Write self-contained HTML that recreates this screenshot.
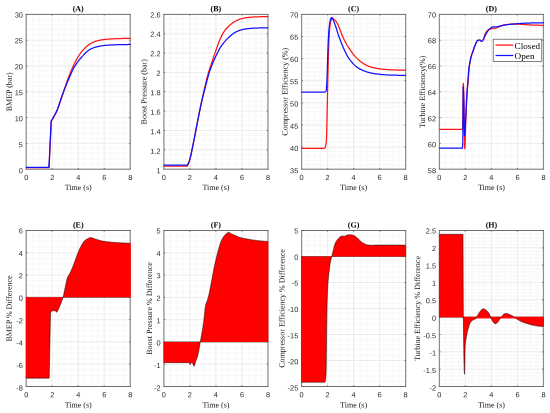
<!DOCTYPE html>
<html lang="en"><head><meta charset="utf-8"><title>Closed vs Open comparison</title>
<style>html,body{margin:0;padding:0;background:#fff}body{width:550px;height:413px;overflow:hidden}svg{display:block}.t{font-family:"Liberation Sans",Arial,sans-serif;font-size:7.4px;fill:#2a2a2a}.l{font-family:"Liberation Serif","Times New Roman",serif;font-size:8.0px;fill:#161616}.h{font-family:"Liberation Serif","Times New Roman",serif;font-size:8.0px;font-weight:bold;fill:#000}.g{font-family:"Liberation Serif","Times New Roman",serif;font-size:9.2px;fill:#000}</style></head><body>
<svg width="550" height="413" viewBox="0 0 550 413">
<rect x="0" y="0" width="550" height="413" fill="#ffffff"/>
<g>
<rect x="26.20" y="14.40" width="104.05" height="154.80" fill="#ffffff"/>
<path d="M32.70 14.40V169.20M39.21 14.40V169.20M45.71 14.40V169.20M58.72 14.40V169.20M65.22 14.40V169.20M71.72 14.40V169.20M84.73 14.40V169.20M91.23 14.40V169.20M97.73 14.40V169.20M110.74 14.40V169.20M117.24 14.40V169.20M123.75 14.40V169.20M26.20 164.04H130.25M26.20 158.88H130.25M26.20 153.72H130.25M26.20 148.56H130.25M26.20 138.24H130.25M26.20 133.08H130.25M26.20 127.92H130.25M26.20 122.76H130.25M26.20 112.44H130.25M26.20 107.28H130.25M26.20 102.12H130.25M26.20 96.96H130.25M26.20 86.64H130.25M26.20 81.48H130.25M26.20 76.32H130.25M26.20 71.16H130.25M26.20 60.84H130.25M26.20 55.68H130.25M26.20 50.52H130.25M26.20 45.36H130.25M26.20 35.04H130.25M26.20 29.88H130.25M26.20 24.72H130.25M26.20 19.56H130.25" stroke="#f5f5f5" stroke-width="0.7" fill="none"/>
<path d="M52.21 14.40V169.20M78.22 14.40V169.20M104.24 14.40V169.20M26.20 143.40H130.25M26.20 117.60H130.25M26.20 91.80H130.25M26.20 66.00H130.25M26.20 40.20H130.25" stroke="#e7e7e7" stroke-width="0.8" fill="none"/>
<path d="M26.20 14.00V169.60M130.25 14.00V169.60M52.21 169.20v-1.20M52.21 14.40v1.20M78.22 169.20v-1.20M78.22 14.40v1.20M104.24 169.20v-1.20M104.24 14.40v1.20" stroke="#8e8e8e" stroke-width="1.25" fill="none"/>
<path d="M25.70 14.40H130.75M25.70 169.20H130.75M26.20 143.40h1.20M130.25 143.40h-1.20M26.20 117.60h1.20M130.25 117.60h-1.20M26.20 91.80h1.20M130.25 91.80h-1.20M26.20 66.00h1.20M130.25 66.00h-1.20M26.20 40.20h1.20M130.25 40.20h-1.20" stroke="#5e5e5e" stroke-width="0.9" fill="none"/>
<clipPath id="c0"><rect x="25.55" y="14.40" width="105.35" height="154.80"/></clipPath>
<polyline clip-path="url(#c0)" points="26.20,167.50 49.09,167.50 51.30,121.21 51.55,120.81 51.80,120.41 52.05,120.00 52.30,119.58 52.55,119.16 52.80,118.72 53.05,118.29 53.29,117.84 53.54,117.39 53.79,116.94 54.04,116.48 54.29,116.01 54.54,115.54 54.79,115.07 54.81,115.02 55.04,114.59 55.29,114.11 55.54,113.62 55.78,113.13 56.03,112.63 56.28,112.12 56.53,111.59 56.78,111.06 57.03,110.50 57.28,109.92 57.41,109.60 57.53,109.33 57.78,108.69 58.03,108.02 58.28,107.33 58.52,106.62 58.77,105.90 59.02,105.17 59.27,104.45 59.37,104.18 59.52,103.74 59.77,103.03 60.02,102.31 60.27,101.59 60.52,100.86 60.77,100.13 61.01,99.40 61.26,98.67 61.51,97.93 61.76,97.19 62.01,96.45 62.26,95.71 62.51,94.97 62.76,94.24 63.01,93.50 63.26,92.76 63.51,92.02 63.53,91.95 63.75,91.28 64.00,90.54 64.25,89.78 64.50,89.03 64.75,88.27 65.00,87.51 65.25,86.75 65.50,85.99 65.75,85.24 66.00,84.49 66.24,83.74 66.49,83.01 66.74,82.28 66.99,81.57 67.24,80.86 67.49,80.17 67.56,79.98 67.74,79.50 67.99,78.82 68.24,78.15 68.49,77.49 68.74,76.83 68.98,76.17 69.23,75.52 69.48,74.88 69.73,74.24 69.98,73.61 70.23,72.98 70.48,72.36 70.73,71.75 70.98,71.15 71.23,70.55 71.47,69.97 71.72,69.39 71.97,68.82 72.22,68.27 72.47,67.72 72.50,67.65 72.72,67.18 72.97,66.64 73.22,66.11 73.47,65.58 73.72,65.06 73.97,64.54 74.21,64.03 74.46,63.52 74.71,63.02 74.96,62.52 75.21,62.03 75.46,61.54 75.71,61.06 75.96,60.59 76.21,60.12 76.46,59.66 76.70,59.21 76.95,58.76 77.20,58.32 77.45,57.89 77.70,57.47 77.95,57.06 78.20,56.65 78.45,56.25 78.62,55.99 78.70,55.86 78.95,55.48 79.20,55.10 79.44,54.73 79.69,54.36 79.94,54.00 80.19,53.64 80.44,53.29 80.69,52.95 80.94,52.61 81.19,52.28 81.44,51.95 81.69,51.63 81.93,51.32 82.18,51.02 82.43,50.72 82.68,50.43 82.93,50.15 83.18,49.87 83.30,49.75 83.43,49.60 83.68,49.34 83.93,49.08 84.18,48.82 84.43,48.56 84.67,48.31 84.92,48.06 85.17,47.81 85.42,47.57 85.67,47.33 85.92,47.10 86.17,46.87 86.42,46.64 86.67,46.42 86.92,46.20 87.16,45.99 87.41,45.78 87.66,45.58 87.91,45.39 88.16,45.19 88.41,45.01 88.66,44.83 88.91,44.66 89.16,44.49 89.41,44.33 89.41,44.33 89.66,44.17 89.90,44.02 90.15,43.87 90.40,43.72 90.65,43.57 90.90,43.43 91.15,43.28 91.40,43.14 91.65,43.01 91.90,42.87 92.15,42.74 92.39,42.61 92.64,42.49 92.89,42.37 93.14,42.25 93.39,42.14 93.64,42.03 93.89,41.92 94.14,41.82 94.39,41.72 94.64,41.63 94.89,41.54 95.13,41.46 95.38,41.38 95.52,41.34 95.63,41.30 95.88,41.23 96.13,41.16 96.38,41.09 96.63,41.02 96.88,40.95 97.13,40.88 97.38,40.82 97.62,40.75 97.87,40.69 98.12,40.63 98.37,40.56 98.62,40.51 98.87,40.45 99.12,40.39 99.37,40.33 99.62,40.28 99.87,40.23 100.12,40.18 100.36,40.13 100.61,40.08 100.86,40.03 101.11,39.98 101.36,39.94 101.61,39.90 101.86,39.85 102.11,39.81 102.36,39.77 102.61,39.74 102.85,39.70 103.10,39.67 103.35,39.63 103.60,39.60 103.85,39.57 104.10,39.54 104.24,39.53 104.35,39.52 104.60,39.49 104.85,39.46 105.10,39.44 105.35,39.41 105.59,39.39 105.84,39.37 106.09,39.34 106.34,39.32 106.59,39.29 106.84,39.27 107.09,39.25 107.34,39.23 107.59,39.21 107.84,39.18 108.08,39.16 108.33,39.14 108.58,39.12 108.83,39.10 109.08,39.08 109.33,39.06 109.58,39.05 109.83,39.03 110.08,39.01 110.33,38.99 110.58,38.97 110.82,38.96 111.07,38.94 111.32,38.92 111.57,38.91 111.82,38.89 112.07,38.88 112.32,38.86 112.57,38.85 112.82,38.83 113.07,38.82 113.31,38.81 113.56,38.79 113.81,38.78 114.06,38.77 114.31,38.76 114.56,38.75 114.81,38.73 115.06,38.72 115.31,38.71 115.56,38.70 115.81,38.69 116.05,38.68 116.30,38.67 116.55,38.66 116.80,38.65 116.85,38.65 117.05,38.65 117.30,38.64 117.55,38.63 117.80,38.62 118.05,38.61 118.30,38.60 118.54,38.59 118.79,38.58 119.04,38.58 119.29,38.57 119.54,38.56 119.79,38.55 120.04,38.54 120.29,38.54 120.54,38.53 120.79,38.52 121.04,38.51 121.28,38.50 121.53,38.50 121.78,38.49 122.03,38.48 122.28,38.47 122.53,38.47 122.78,38.46 123.03,38.45 123.28,38.45 123.53,38.44 123.77,38.43 124.02,38.43 124.27,38.42 124.52,38.41 124.77,38.41 125.02,38.40 125.27,38.40 125.52,38.39 125.77,38.39 126.02,38.38 126.27,38.38 126.51,38.38 126.76,38.37 127.01,38.37 127.26,38.36 127.51,38.36 127.76,38.36 128.01,38.35 128.26,38.35 128.51,38.35 128.76,38.35 129.00,38.35 129.25,38.34 129.50,38.34 129.75,38.34 130.00,38.34 130.25,38.34" fill="none" stroke="#ff1414" stroke-width="1.25" stroke-linejoin="round" stroke-linecap="round"/>
<polyline clip-path="url(#c0)" points="26.20,167.34 48.96,167.34 51.17,120.90 51.42,120.54 51.67,120.16 51.92,119.78 52.17,119.38 52.42,118.98 52.66,118.57 52.91,118.16 53.16,117.74 53.41,117.31 53.66,116.87 53.91,116.43 54.16,115.98 54.40,115.52 54.65,115.06 54.81,114.76 54.90,114.60 55.15,114.13 55.40,113.65 55.65,113.17 55.90,112.67 56.15,112.17 56.39,111.65 56.64,111.12 56.89,110.57 57.14,110.00 57.39,109.41 57.41,109.34 57.64,108.78 57.89,108.12 58.13,107.41 58.38,106.69 58.63,105.95 58.88,105.20 59.13,104.46 59.37,103.77 59.38,103.74 59.63,103.01 59.88,102.28 60.12,101.55 60.37,100.81 60.62,100.06 60.87,99.32 61.12,98.57 61.37,97.83 61.62,97.08 61.86,96.35 62.11,95.61 62.36,94.89 62.61,94.18 62.86,93.47 63.11,92.78 63.36,92.10 63.53,91.65 63.61,91.44 63.85,90.79 64.10,90.14 64.35,89.51 64.60,88.88 64.85,88.26 65.10,87.64 65.35,87.03 65.60,86.43 65.84,85.83 66.09,85.23 66.34,84.64 66.59,84.05 66.84,83.47 67.09,82.89 67.34,82.31 67.58,81.73 67.83,81.16 68.08,80.58 68.33,80.01 68.34,79.98 68.58,79.43 68.83,78.85 69.08,78.26 69.33,77.67 69.57,77.08 69.82,76.48 70.07,75.89 70.32,75.30 70.57,74.71 70.82,74.13 71.07,73.55 71.31,72.98 71.56,72.41 71.81,71.86 72.06,71.31 72.31,70.78 72.56,70.26 72.81,69.75 73.06,69.26 73.30,68.78 73.55,68.32 73.80,67.88 73.93,67.65 74.05,67.45 74.30,67.04 74.55,66.63 74.80,66.23 75.04,65.83 75.29,65.44 75.54,65.05 75.79,64.67 76.04,64.30 76.29,63.93 76.54,63.57 76.79,63.21 77.03,62.86 77.28,62.51 77.53,62.17 77.78,61.83 78.03,61.50 78.28,61.17 78.53,60.85 78.77,60.53 79.02,60.21 79.27,59.90 79.52,59.59 79.77,59.29 80.02,58.98 80.27,58.69 80.52,58.39 80.76,58.10 81.01,57.81 81.26,57.53 81.51,57.25 81.76,56.97 82.01,56.69 82.26,56.42 82.50,56.14 82.65,55.99 82.75,55.87 83.00,55.60 83.25,55.33 83.50,55.07 83.75,54.80 84.00,54.53 84.25,54.26 84.49,54.00 84.74,53.74 84.99,53.48 85.24,53.22 85.49,52.97 85.74,52.72 85.99,52.48 86.23,52.24 86.48,52.00 86.73,51.78 86.98,51.55 87.23,51.33 87.48,51.12 87.73,50.92 87.98,50.72 88.22,50.53 88.47,50.35 88.72,50.18 88.97,50.01 89.22,49.86 89.41,49.75 89.47,49.71 89.72,49.57 89.96,49.43 90.21,49.30 90.46,49.17 90.71,49.04 90.96,48.92 91.21,48.79 91.46,48.68 91.71,48.56 91.95,48.45 92.20,48.34 92.45,48.23 92.70,48.13 92.95,48.03 93.20,47.93 93.45,47.84 93.70,47.74 93.94,47.66 94.19,47.57 94.44,47.49 94.69,47.41 94.94,47.33 95.19,47.26 95.44,47.19 95.52,47.17 95.68,47.12 95.93,47.06 96.18,46.99 96.43,46.92 96.68,46.86 96.93,46.80 97.18,46.73 97.43,46.67 97.67,46.61 97.92,46.55 98.17,46.49 98.42,46.43 98.67,46.38 98.92,46.32 99.17,46.27 99.41,46.21 99.66,46.16 99.91,46.11 100.16,46.06 100.41,46.01 100.66,45.97 100.91,45.92 101.16,45.88 101.40,45.83 101.65,45.79 101.90,45.75 102.15,45.72 102.40,45.68 102.65,45.65 102.90,45.61 103.14,45.58 103.39,45.55 103.64,45.52 103.89,45.50 104.14,45.47 104.24,45.46 104.39,45.45 104.64,45.43 104.89,45.41 105.13,45.38 105.38,45.36 105.63,45.34 105.88,45.32 106.13,45.30 106.38,45.28 106.63,45.26 106.87,45.24 107.12,45.22 107.37,45.21 107.62,45.19 107.87,45.17 108.12,45.15 108.37,45.14 108.62,45.12 108.86,45.10 109.11,45.09 109.36,45.07 109.61,45.06 109.86,45.04 110.11,45.03 110.36,45.01 110.60,45.00 110.85,44.99 111.10,44.97 111.35,44.96 111.60,44.95 111.85,44.93 112.10,44.92 112.35,44.91 112.59,44.90 112.84,44.89 113.09,44.88 113.34,44.87 113.59,44.86 113.84,44.85 114.09,44.84 114.33,44.83 114.58,44.82 114.83,44.81 115.08,44.80 115.33,44.79 115.58,44.78 115.83,44.77 116.08,44.76 116.32,44.76 116.57,44.75 116.82,44.74 116.85,44.74 117.07,44.73 117.32,44.73 117.57,44.72 117.82,44.71 118.07,44.71 118.31,44.70 118.56,44.69 118.81,44.68 119.06,44.68 119.31,44.67 119.56,44.66 119.81,44.66 120.05,44.65 120.30,44.64 120.55,44.64 120.80,44.63 121.05,44.62 121.30,44.62 121.55,44.61 121.80,44.60 122.04,44.60 122.29,44.59 122.54,44.59 122.79,44.58 123.04,44.57 123.29,44.57 123.54,44.56 123.78,44.56 124.03,44.55 124.28,44.55 124.53,44.54 124.78,44.54 125.03,44.53 125.28,44.53 125.53,44.53 125.77,44.52 126.02,44.52 126.27,44.51 126.52,44.51 126.77,44.51 127.02,44.50 127.27,44.50 127.51,44.50 127.76,44.50 128.01,44.49 128.26,44.49 128.51,44.49 128.76,44.49 129.01,44.49 129.26,44.48 129.50,44.48 129.75,44.48 130.00,44.48 130.25,44.48" fill="none" stroke="#1010ff" stroke-width="1.25" stroke-linejoin="round" stroke-linecap="round"/>
<text class="t" x="26.20" y="180.00" transform="rotate(.03 26.20 180.00)" text-anchor="middle">0</text>
<text class="t" x="52.21" y="180.00" transform="rotate(.03 52.21 180.00)" text-anchor="middle">2</text>
<text class="t" x="78.22" y="180.00" transform="rotate(.03 78.22 180.00)" text-anchor="middle">4</text>
<text class="t" x="104.24" y="180.00" transform="rotate(.03 104.24 180.00)" text-anchor="middle">6</text>
<text class="t" x="130.25" y="180.00" transform="rotate(.03 130.25 180.00)" text-anchor="middle">8</text>
<text class="t" x="22.90" y="173.18" transform="rotate(.03 22.90 173.18)" text-anchor="end">0</text>
<text class="t" x="22.90" y="147.22" transform="rotate(.03 22.90 147.22)" text-anchor="end">5</text>
<text class="t" x="22.90" y="121.26" transform="rotate(.03 22.90 121.26)" text-anchor="end">10</text>
<text class="t" x="22.90" y="95.30" transform="rotate(.03 22.90 95.30)" text-anchor="end">15</text>
<text class="t" x="22.90" y="69.34" transform="rotate(.03 22.90 69.34)" text-anchor="end">20</text>
<text class="t" x="22.90" y="43.38" transform="rotate(.03 22.90 43.38)" text-anchor="end">25</text>
<text class="t" x="22.90" y="17.42" transform="rotate(.03 22.90 17.42)" text-anchor="end">30</text>
<text class="l" x="78.22" y="190.10" transform="rotate(.03 78.22 190.10)" text-anchor="middle">Time (s)</text>
<text class="l" transform="translate(11.70 91.80) rotate(-89.97)" text-anchor="middle">BMEP (bar)</text>
<text class="h" x="78.22" y="11.30" transform="rotate(.03 78.22 11.30)" text-anchor="middle">(A)</text>
</g>
<g>
<rect x="163.90" y="14.40" width="104.05" height="154.80" fill="#ffffff"/>
<path d="M170.40 14.40V169.20M176.91 14.40V169.20M183.41 14.40V169.20M196.42 14.40V169.20M202.92 14.40V169.20M209.42 14.40V169.20M222.43 14.40V169.20M228.93 14.40V169.20M235.43 14.40V169.20M248.44 14.40V169.20M254.94 14.40V169.20M261.45 14.40V169.20M163.90 164.36H267.95M163.90 159.53H267.95M163.90 154.69H267.95M163.90 145.01H267.95M163.90 140.17H267.95M163.90 135.34H267.95M163.90 125.66H267.95M163.90 120.82H267.95M163.90 115.99H267.95M163.90 106.31H267.95M163.90 101.47H267.95M163.90 96.64H267.95M163.90 86.96H267.95M163.90 82.12H267.95M163.90 77.29H267.95M163.90 67.61H267.95M163.90 62.77H267.95M163.90 57.94H267.95M163.90 48.26H267.95M163.90 43.42H267.95M163.90 38.59H267.95M163.90 28.91H267.95M163.90 24.07H267.95M163.90 19.24H267.95" stroke="#f5f5f5" stroke-width="0.7" fill="none"/>
<path d="M189.91 14.40V169.20M215.93 14.40V169.20M241.94 14.40V169.20M163.90 149.85H267.95M163.90 130.50H267.95M163.90 111.15H267.95M163.90 91.80H267.95M163.90 72.45H267.95M163.90 53.10H267.95M163.90 33.75H267.95" stroke="#e7e7e7" stroke-width="0.8" fill="none"/>
<path d="M163.90 14.00V169.60M267.95 14.00V169.60M189.91 169.20v-1.20M189.91 14.40v1.20M215.93 169.20v-1.20M215.93 14.40v1.20M241.94 169.20v-1.20M241.94 14.40v1.20" stroke="#8e8e8e" stroke-width="1.25" fill="none"/>
<path d="M163.40 14.40H268.45M163.40 169.20H268.45M163.90 149.85h1.20M267.95 149.85h-1.20M163.90 130.50h1.20M267.95 130.50h-1.20M163.90 111.15h1.20M267.95 111.15h-1.20M163.90 91.80h1.20M267.95 91.80h-1.20M163.90 72.45h1.20M267.95 72.45h-1.20M163.90 53.10h1.20M267.95 53.10h-1.20M163.90 33.75h1.20M267.95 33.75h-1.20" stroke="#5e5e5e" stroke-width="0.9" fill="none"/>
<clipPath id="c1"><rect x="163.25" y="14.40" width="105.35" height="154.80"/></clipPath>
<polyline clip-path="url(#c1)" points="163.90,166.20 164.15,166.20 164.40,166.20 164.64,166.20 164.89,166.20 165.14,166.20 165.39,166.20 165.64,166.20 165.89,166.20 166.13,166.20 166.38,166.20 166.63,166.20 166.88,166.20 167.13,166.20 167.38,166.20 167.62,166.20 167.87,166.20 168.12,166.20 168.37,166.20 168.62,166.20 168.87,166.20 169.11,166.20 169.36,166.20 169.61,166.20 169.86,166.20 170.11,166.20 170.36,166.20 170.60,166.20 170.85,166.20 171.10,166.20 171.35,166.20 171.60,166.20 171.85,166.20 172.09,166.20 172.34,166.20 172.59,166.20 172.84,166.20 173.09,166.20 173.34,166.20 173.58,166.20 173.83,166.20 174.08,166.20 174.33,166.20 174.58,166.20 174.83,166.20 175.07,166.20 175.32,166.20 175.57,166.20 175.82,166.20 176.07,166.20 176.32,166.20 176.56,166.20 176.81,166.20 177.06,166.20 177.31,166.20 177.56,166.20 177.81,166.20 178.05,166.20 178.30,166.20 178.55,166.20 178.80,166.20 179.05,166.20 179.30,166.20 179.54,166.20 179.79,166.20 180.04,166.20 180.29,166.20 180.54,166.20 180.79,166.20 181.03,166.20 181.28,166.20 181.53,166.20 181.78,166.20 182.03,166.20 182.28,166.20 182.52,166.20 182.77,166.20 183.02,166.20 183.27,166.20 183.52,166.20 183.77,166.20 184.01,166.20 184.26,166.20 184.51,166.20 184.76,166.20 185.01,166.20 185.26,166.20 185.50,166.20 185.75,166.20 186.00,166.20 186.25,166.20 186.50,166.20 186.75,166.20 186.99,166.20 187.05,166.20 187.24,166.13 187.49,165.87 187.74,165.45 187.99,164.91 188.24,164.32 188.48,163.70 188.61,163.40 188.73,163.09 188.98,162.37 189.23,161.55 189.48,160.66 189.73,159.74 189.78,159.53 189.97,158.79 190.22,157.80 190.47,156.77 190.72,155.71 190.97,154.61 191.22,153.48 191.46,152.32 191.71,151.14 191.96,149.95 192.21,148.74 192.46,147.52 192.71,146.29 192.95,145.06 193.20,143.84 193.45,142.61 193.55,142.11 193.70,141.40 193.95,140.16 194.20,138.91 194.44,137.63 194.69,136.35 194.94,135.05 195.19,133.75 195.44,132.44 195.69,131.13 195.93,129.81 196.18,128.51 196.43,127.20 196.68,125.90 196.93,124.62 197.18,123.34 197.20,123.24 197.42,122.08 197.67,120.81 197.92,119.54 198.17,118.28 198.42,117.01 198.67,115.75 198.91,114.49 199.16,113.23 199.41,111.99 199.66,110.74 199.91,109.51 200.16,108.29 200.40,107.08 200.65,105.88 200.90,104.69 200.97,104.38 201.15,103.52 201.40,102.35 201.65,101.20 201.89,100.04 202.14,98.90 202.39,97.77 202.64,96.64 202.89,95.52 203.14,94.41 203.38,93.30 203.63,92.21 203.88,91.13 204.13,90.05 204.38,88.98 204.63,87.93 204.74,87.45 204.87,86.88 205.12,85.83 205.37,84.78 205.62,83.73 205.87,82.69 206.12,81.66 206.36,80.64 206.61,79.63 206.86,78.63 207.11,77.64 207.36,76.68 207.61,75.73 207.85,74.81 208.10,73.91 208.35,73.04 208.38,72.93 208.60,72.19 208.85,71.37 209.10,70.57 209.34,69.78 209.59,69.02 209.84,68.27 210.09,67.52 210.34,66.79 210.59,66.07 210.83,65.35 211.08,64.63 211.33,63.92 211.58,63.20 211.83,62.48 212.08,61.75 212.28,61.13 212.32,61.01 212.57,60.27 212.82,59.52 213.07,58.78 213.32,58.03 213.57,57.29 213.81,56.55 214.06,55.81 214.31,55.07 214.56,54.34 214.81,53.61 215.06,52.88 215.30,52.16 215.55,51.44 215.80,50.73 216.05,50.02 216.06,50.00 216.30,49.31 216.55,48.60 216.79,47.89 217.04,47.17 217.29,46.45 217.54,45.74 217.79,45.03 218.04,44.33 218.28,43.65 218.53,42.97 218.78,42.31 219.03,41.67 219.28,41.04 219.53,40.44 219.77,39.87 219.83,39.75 220.02,39.31 220.27,38.76 220.52,38.22 220.77,37.69 221.02,37.16 221.26,36.64 221.51,36.14 221.76,35.64 222.01,35.15 222.26,34.68 222.51,34.21 222.75,33.76 223.00,33.32 223.25,32.89 223.50,32.48 223.75,32.08 224.00,31.70 224.24,31.33 224.38,31.14 224.49,30.98 224.74,30.64 224.99,30.31 225.24,29.99 225.49,29.67 225.73,29.37 225.98,29.07 226.23,28.78 226.48,28.50 226.73,28.23 226.98,27.96 227.22,27.70 227.47,27.44 227.72,27.19 227.97,26.94 228.22,26.69 228.47,26.45 228.71,26.22 228.93,26.01 228.96,25.98 229.21,25.75 229.46,25.52 229.71,25.29 229.96,25.07 230.20,24.85 230.45,24.63 230.70,24.41 230.95,24.20 231.20,24.00 231.45,23.79 231.69,23.60 231.94,23.40 232.19,23.22 232.44,23.03 232.69,22.86 232.94,22.69 233.18,22.52 233.43,22.37 233.48,22.33 233.68,22.21 233.93,22.06 234.18,21.91 234.43,21.77 234.67,21.62 234.92,21.48 235.17,21.34 235.42,21.20 235.67,21.07 235.92,20.94 236.16,20.81 236.41,20.68 236.66,20.56 236.91,20.44 237.16,20.32 237.41,20.20 237.65,20.09 237.90,19.98 238.15,19.88 238.40,19.78 238.65,19.68 238.90,19.58 239.14,19.49 239.39,19.40 239.60,19.33 239.64,19.32 239.89,19.24 240.14,19.16 240.39,19.08 240.63,19.00 240.88,18.92 241.13,18.84 241.38,18.77 241.63,18.70 241.88,18.63 242.12,18.56 242.37,18.49 242.62,18.42 242.87,18.36 243.12,18.30 243.37,18.24 243.61,18.18 243.86,18.12 244.11,18.07 244.36,18.02 244.61,17.97 244.86,17.92 245.10,17.88 245.35,17.84 245.60,17.80 245.71,17.79 245.85,17.77 246.10,17.73 246.35,17.70 246.59,17.66 246.84,17.63 247.09,17.60 247.34,17.56 247.59,17.53 247.84,17.50 248.08,17.47 248.33,17.44 248.58,17.41 248.83,17.38 249.08,17.35 249.33,17.33 249.57,17.30 249.82,17.27 250.07,17.25 250.32,17.22 250.57,17.20 250.82,17.18 251.06,17.16 251.31,17.13 251.56,17.11 251.81,17.09 252.06,17.07 252.31,17.05 252.55,17.04 252.80,17.02 253.05,17.00 253.30,16.99 253.55,16.97 253.80,16.96 254.04,16.95 254.29,16.94 254.54,16.93 254.79,16.92 254.81,16.92 255.04,16.91 255.29,16.90 255.53,16.89 255.78,16.88 256.03,16.87 256.28,16.86 256.53,16.85 256.78,16.85 257.02,16.84 257.27,16.83 257.52,16.82 257.77,16.81 258.02,16.80 258.27,16.80 258.51,16.79 258.76,16.78 259.01,16.77 259.26,16.77 259.51,16.76 259.76,16.75 260.00,16.74 260.25,16.74 260.50,16.73 260.75,16.72 261.00,16.72 261.25,16.71 261.49,16.71 261.74,16.70 261.99,16.70 262.24,16.69 262.49,16.68 262.74,16.68 262.98,16.67 263.23,16.67 263.48,16.67 263.73,16.66 263.98,16.66 264.23,16.65 264.47,16.65 264.72,16.65 264.97,16.64 265.22,16.64 265.47,16.64 265.72,16.64 265.96,16.63 266.21,16.63 266.46,16.63 266.71,16.63 266.96,16.63 267.21,16.63 267.45,16.63 267.70,16.63 267.95,16.63" fill="none" stroke="#ff1414" stroke-width="1.25" stroke-linejoin="round" stroke-linecap="round"/>
<polyline clip-path="url(#c1)" points="163.90,165.04 164.15,165.04 164.40,165.04 164.64,165.04 164.89,165.04 165.14,165.04 165.39,165.04 165.64,165.04 165.89,165.04 166.13,165.04 166.38,165.04 166.63,165.04 166.88,165.04 167.13,165.04 167.38,165.04 167.62,165.04 167.87,165.04 168.12,165.04 168.37,165.04 168.62,165.04 168.87,165.04 169.11,165.04 169.36,165.04 169.61,165.04 169.86,165.04 170.11,165.04 170.36,165.04 170.60,165.04 170.85,165.04 171.10,165.04 171.35,165.04 171.60,165.04 171.85,165.04 172.09,165.04 172.34,165.04 172.59,165.04 172.84,165.04 173.09,165.04 173.34,165.04 173.58,165.04 173.83,165.04 174.08,165.04 174.33,165.04 174.58,165.04 174.83,165.04 175.07,165.04 175.32,165.04 175.57,165.04 175.82,165.04 176.07,165.04 176.32,165.04 176.56,165.04 176.81,165.04 177.06,165.04 177.31,165.04 177.56,165.04 177.81,165.04 178.05,165.04 178.30,165.04 178.55,165.04 178.80,165.04 179.05,165.04 179.30,165.04 179.54,165.04 179.79,165.04 180.04,165.04 180.29,165.04 180.54,165.04 180.79,165.04 181.03,165.04 181.28,165.04 181.53,165.04 181.78,165.04 182.03,165.04 182.28,165.04 182.52,165.04 182.77,165.04 183.02,165.04 183.27,165.04 183.52,165.04 183.77,165.04 184.01,165.04 184.26,165.04 184.51,165.04 184.76,165.04 185.01,165.04 185.26,165.04 185.50,165.04 185.75,165.04 186.00,165.04 186.25,165.04 186.50,165.04 186.75,165.04 186.99,165.04 187.05,165.04 187.24,164.98 187.49,164.75 187.74,164.38 187.99,163.92 188.24,163.40 188.48,162.88 188.61,162.62 188.73,162.37 188.98,161.80 189.23,161.17 189.48,160.46 189.73,159.70 189.78,159.53 189.97,158.88 190.22,157.99 190.47,157.02 190.72,155.98 190.97,154.89 191.22,153.76 191.46,152.58 191.71,151.37 191.96,150.13 192.21,148.88 192.46,147.62 192.71,146.35 192.95,145.09 193.20,143.84 193.45,142.61 193.55,142.11 193.70,141.40 193.95,140.18 194.20,138.94 194.44,137.68 194.69,136.42 194.94,135.14 195.19,133.86 195.44,132.58 195.69,131.29 195.93,130.00 196.18,128.71 196.43,127.43 196.68,126.16 196.93,124.89 197.18,123.63 197.20,123.53 197.42,122.38 197.67,121.12 197.92,119.86 198.17,118.59 198.42,117.32 198.67,116.05 198.91,114.79 199.16,113.54 199.41,112.29 199.66,111.06 199.91,109.84 200.16,108.64 200.40,107.46 200.65,106.30 200.90,105.16 200.97,104.86 201.15,104.05 201.40,102.96 201.65,101.88 201.89,100.82 202.14,99.78 202.39,98.74 202.64,97.72 202.89,96.71 203.14,95.71 203.38,94.71 203.63,93.73 203.88,92.75 204.13,91.77 204.38,90.80 204.63,89.83 204.74,89.38 204.87,88.85 205.12,87.88 205.37,86.90 205.62,85.92 205.87,84.94 206.12,83.96 206.36,82.99 206.61,82.03 206.86,81.07 207.11,80.12 207.36,79.19 207.61,78.27 207.85,77.36 208.10,76.47 208.35,75.61 208.60,74.76 208.85,73.94 209.10,73.14 209.16,72.93 209.34,72.37 209.59,71.61 209.84,70.87 210.09,70.15 210.34,69.44 210.59,68.74 210.83,68.06 211.08,67.39 211.33,66.73 211.58,66.08 211.83,65.44 212.08,64.80 212.32,64.18 212.57,63.56 212.82,62.95 212.93,62.68 213.07,62.35 213.32,61.75 213.57,61.16 213.81,60.58 214.06,60.01 214.31,59.44 214.56,58.89 214.81,58.33 215.06,57.79 215.30,57.25 215.55,56.72 215.80,56.19 216.05,55.67 216.30,55.16 216.55,54.65 216.79,54.15 216.84,54.07 217.04,53.65 217.29,53.15 217.54,52.66 217.79,52.17 218.04,51.68 218.28,51.20 218.53,50.72 218.78,50.25 219.03,49.79 219.28,49.34 219.53,48.90 219.77,48.46 220.02,48.04 220.27,47.63 220.52,47.24 220.61,47.10 220.77,46.86 221.02,46.48 221.26,46.11 221.51,45.75 221.76,45.40 222.01,45.05 222.26,44.70 222.51,44.37 222.75,44.04 223.00,43.71 223.25,43.40 223.50,43.08 223.75,42.77 224.00,42.47 224.24,42.17 224.49,41.87 224.74,41.58 224.99,41.30 225.16,41.10 225.24,41.01 225.49,40.74 225.73,40.46 225.98,40.19 226.23,39.93 226.48,39.66 226.73,39.41 226.98,39.15 227.22,38.90 227.47,38.65 227.72,38.41 227.97,38.17 228.22,37.93 228.47,37.70 228.71,37.46 228.96,37.23 229.21,37.01 229.46,36.78 229.71,36.56 229.71,36.56 229.96,36.34 230.20,36.11 230.45,35.89 230.70,35.67 230.95,35.44 231.20,35.22 231.45,35.01 231.69,34.79 231.94,34.58 232.19,34.37 232.44,34.17 232.69,33.97 232.94,33.78 233.18,33.59 233.43,33.41 233.68,33.24 233.93,33.08 234.18,32.93 234.26,32.88 234.43,32.79 234.67,32.64 234.92,32.51 235.17,32.37 235.42,32.24 235.67,32.11 235.92,31.98 236.16,31.85 236.41,31.73 236.66,31.61 236.91,31.49 237.16,31.38 237.41,31.27 237.65,31.16 237.90,31.06 238.15,30.95 238.40,30.85 238.65,30.76 238.90,30.66 239.14,30.57 239.39,30.49 239.64,30.40 239.89,30.32 240.14,30.24 240.38,30.17 240.39,30.17 240.63,30.09 240.88,30.02 241.13,29.95 241.38,29.88 241.63,29.81 241.88,29.75 242.12,29.68 242.37,29.62 242.62,29.55 242.87,29.49 243.12,29.43 243.37,29.38 243.61,29.32 243.86,29.27 244.11,29.21 244.36,29.16 244.61,29.11 244.86,29.07 245.10,29.02 245.35,28.98 245.60,28.94 245.85,28.90 246.10,28.87 246.35,28.83 246.49,28.82 246.59,28.80 246.84,28.77 247.09,28.74 247.34,28.72 247.59,28.69 247.84,28.66 248.08,28.63 248.33,28.61 248.58,28.58 248.83,28.56 249.08,28.54 249.33,28.51 249.57,28.49 249.82,28.47 250.07,28.45 250.32,28.42 250.57,28.40 250.82,28.38 251.06,28.36 251.31,28.35 251.56,28.33 251.81,28.31 252.06,28.29 252.31,28.28 252.55,28.26 252.80,28.24 253.05,28.23 253.30,28.22 253.55,28.20 253.80,28.19 254.04,28.18 254.29,28.16 254.54,28.15 254.79,28.14 254.81,28.14 255.04,28.13 255.29,28.12 255.53,28.11 255.78,28.10 256.03,28.08 256.28,28.07 256.53,28.06 256.78,28.05 257.02,28.04 257.27,28.03 257.52,28.02 257.77,28.01 258.02,28.00 258.27,27.99 258.51,27.98 258.76,27.97 259.01,27.96 259.26,27.95 259.51,27.94 259.76,27.93 260.00,27.92 260.25,27.91 260.50,27.90 260.75,27.89 261.00,27.88 261.25,27.88 261.49,27.87 261.74,27.86 261.99,27.85 262.24,27.84 262.49,27.84 262.74,27.83 262.98,27.82 263.23,27.82 263.48,27.81 263.73,27.80 263.98,27.80 264.23,27.79 264.47,27.79 264.72,27.78 264.97,27.78 265.22,27.77 265.47,27.77 265.72,27.77 265.96,27.76 266.21,27.76 266.46,27.76 266.71,27.76 266.96,27.75 267.21,27.75 267.45,27.75 267.70,27.75 267.95,27.75" fill="none" stroke="#1010ff" stroke-width="1.25" stroke-linejoin="round" stroke-linecap="round"/>
<text class="t" x="163.90" y="180.00" transform="rotate(.03 163.90 180.00)" text-anchor="middle">0</text>
<text class="t" x="189.91" y="180.00" transform="rotate(.03 189.91 180.00)" text-anchor="middle">2</text>
<text class="t" x="215.93" y="180.00" transform="rotate(.03 215.93 180.00)" text-anchor="middle">4</text>
<text class="t" x="241.94" y="180.00" transform="rotate(.03 241.94 180.00)" text-anchor="middle">6</text>
<text class="t" x="267.95" y="180.00" transform="rotate(.03 267.95 180.00)" text-anchor="middle">8</text>
<text class="t" x="160.60" y="173.18" transform="rotate(.03 160.60 173.18)" text-anchor="end">1</text>
<text class="t" x="160.60" y="153.71" transform="rotate(.03 160.60 153.71)" text-anchor="end">1.2</text>
<text class="t" x="160.60" y="134.24" transform="rotate(.03 160.60 134.24)" text-anchor="end">1.4</text>
<text class="t" x="160.60" y="114.77" transform="rotate(.03 160.60 114.77)" text-anchor="end">1.6</text>
<text class="t" x="160.60" y="95.30" transform="rotate(.03 160.60 95.30)" text-anchor="end">1.8</text>
<text class="t" x="160.60" y="75.83" transform="rotate(.03 160.60 75.83)" text-anchor="end">2</text>
<text class="t" x="160.60" y="56.36" transform="rotate(.03 160.60 56.36)" text-anchor="end">2.2</text>
<text class="t" x="160.60" y="36.89" transform="rotate(.03 160.60 36.89)" text-anchor="end">2.4</text>
<text class="t" x="160.60" y="17.42" transform="rotate(.03 160.60 17.42)" text-anchor="end">2.6</text>
<text class="l" x="215.93" y="190.10" transform="rotate(.03 215.93 190.10)" text-anchor="middle">Time (s)</text>
<text class="l" transform="translate(146.40 91.80) rotate(-89.97)" text-anchor="middle">Boost Pressure (bar)</text>
<text class="h" x="215.93" y="11.30" transform="rotate(.03 215.93 11.30)" text-anchor="middle">(B)</text>
</g>
<g>
<rect x="301.60" y="14.40" width="104.05" height="154.80" fill="#ffffff"/>
<path d="M308.10 14.40V169.20M314.61 14.40V169.20M321.11 14.40V169.20M334.12 14.40V169.20M340.62 14.40V169.20M347.12 14.40V169.20M360.13 14.40V169.20M366.63 14.40V169.20M373.13 14.40V169.20M386.14 14.40V169.20M392.64 14.40V169.20M399.15 14.40V169.20M301.60 164.78H405.65M301.60 160.35H405.65M301.60 155.93H405.65M301.60 151.51H405.65M301.60 142.66H405.65M301.60 138.24H405.65M301.60 133.82H405.65M301.60 129.39H405.65M301.60 120.55H405.65M301.60 116.13H405.65M301.60 111.70H405.65M301.60 107.28H405.65M301.60 98.43H405.65M301.60 94.01H405.65M301.60 89.59H405.65M301.60 85.17H405.65M301.60 76.32H405.65M301.60 71.90H405.65M301.60 67.47H405.65M301.60 63.05H405.65M301.60 54.21H405.65M301.60 49.78H405.65M301.60 45.36H405.65M301.60 40.94H405.65M301.60 32.09H405.65M301.60 27.67H405.65M301.60 23.25H405.65M301.60 18.82H405.65" stroke="#f5f5f5" stroke-width="0.7" fill="none"/>
<path d="M327.61 14.40V169.20M353.62 14.40V169.20M379.64 14.40V169.20M301.60 147.09H405.65M301.60 124.97H405.65M301.60 102.86H405.65M301.60 80.74H405.65M301.60 58.63H405.65M301.60 36.51H405.65" stroke="#e7e7e7" stroke-width="0.8" fill="none"/>
<path d="M301.60 14.00V169.60M405.65 14.00V169.60M327.61 169.20v-1.20M327.61 14.40v1.20M353.62 169.20v-1.20M353.62 14.40v1.20M379.64 169.20v-1.20M379.64 14.40v1.20" stroke="#8e8e8e" stroke-width="1.25" fill="none"/>
<path d="M301.10 14.40H406.15M301.10 169.20H406.15M301.60 147.09h1.20M405.65 147.09h-1.20M301.60 124.97h1.20M405.65 124.97h-1.20M301.60 102.86h1.20M405.65 102.86h-1.20M301.60 80.74h1.20M405.65 80.74h-1.20M301.60 58.63h1.20M405.65 58.63h-1.20M301.60 36.51h1.20M405.65 36.51h-1.20" stroke="#5e5e5e" stroke-width="0.9" fill="none"/>
<clipPath id="c2"><rect x="300.95" y="14.40" width="105.35" height="154.80"/></clipPath>
<polyline clip-path="url(#c2)" points="301.60,148.28 301.85,148.28 302.10,148.28 302.34,148.28 302.59,148.28 302.84,148.28 303.09,148.28 303.34,148.28 303.59,148.28 303.83,148.28 304.08,148.28 304.33,148.28 304.58,148.28 304.83,148.28 305.08,148.28 305.32,148.28 305.57,148.28 305.82,148.28 306.07,148.28 306.32,148.28 306.57,148.28 306.81,148.28 307.06,148.28 307.31,148.28 307.56,148.28 307.81,148.28 308.06,148.28 308.30,148.28 308.55,148.28 308.80,148.28 309.05,148.28 309.30,148.28 309.55,148.28 309.79,148.28 310.04,148.28 310.29,148.28 310.54,148.28 310.79,148.28 311.04,148.28 311.28,148.28 311.53,148.28 311.78,148.28 312.03,148.28 312.28,148.28 312.53,148.28 312.77,148.28 313.02,148.28 313.27,148.28 313.52,148.28 313.77,148.28 314.02,148.28 314.26,148.28 314.51,148.28 314.76,148.28 315.01,148.28 315.26,148.28 315.51,148.28 315.75,148.28 316.00,148.28 316.25,148.28 316.50,148.28 316.75,148.28 317.00,148.28 317.24,148.28 317.49,148.28 317.74,148.28 317.99,148.28 318.24,148.28 318.49,148.28 318.73,148.28 318.98,148.28 319.23,148.28 319.48,148.28 319.73,148.28 319.98,148.28 320.22,148.28 320.47,148.28 320.72,148.28 320.97,148.28 321.22,148.28 321.47,148.28 321.71,148.28 321.96,148.28 322.21,148.28 322.46,148.28 322.71,148.28 322.96,148.28 323.20,148.28 323.45,148.28 323.70,148.28 323.95,148.28 324.20,148.28 324.36,148.28 324.45,148.27 324.69,148.08 324.94,147.69 325.19,147.14 325.44,146.46 325.66,145.76 325.69,145.67 325.94,144.45 326.18,142.50 326.43,139.69 326.44,139.57 326.68,132.99 326.93,121.53 327.18,109.26 327.22,107.28 327.43,98.08 327.67,86.42 327.92,75.23 328.00,71.90 328.17,64.88 328.42,54.70 328.67,46.13 328.78,43.15 328.92,40.26 329.16,35.47 329.41,31.48 329.66,28.35 329.82,26.78 329.91,26.08 330.16,24.21 330.41,22.63 330.65,21.36 330.90,20.41 330.99,20.15 331.15,19.74 331.40,19.15 331.65,18.65 331.90,18.30 332.14,18.16 332.16,18.16 332.39,18.19 332.64,18.27 332.89,18.41 333.14,18.58 333.39,18.78 333.63,18.99 333.88,19.21 334.13,19.43 334.25,19.53 334.38,19.64 334.63,19.86 334.88,20.10 335.12,20.35 335.37,20.62 335.62,20.90 335.87,21.20 336.12,21.52 336.37,21.85 336.61,22.21 336.72,22.36 336.86,22.59 337.11,23.03 337.36,23.51 337.61,24.03 337.86,24.59 338.10,25.17 338.35,25.77 338.60,26.37 338.85,26.98 339.10,27.59 339.32,28.11 339.35,28.18 339.59,28.77 339.84,29.39 340.09,30.02 340.34,30.66 340.59,31.32 340.84,31.97 341.08,32.62 341.33,33.27 341.58,33.91 341.83,34.54 342.08,35.15 342.33,35.74 342.57,36.29 342.57,36.30 342.82,36.85 343.07,37.39 343.32,37.92 343.57,38.45 343.82,38.97 344.06,39.48 344.31,39.98 344.56,40.47 344.81,40.96 345.06,41.44 345.31,41.91 345.55,42.38 345.80,42.83 346.05,43.28 346.30,43.73 346.55,44.16 346.60,44.25 346.80,44.59 347.04,45.01 347.29,45.42 347.54,45.83 347.79,46.23 348.04,46.63 348.29,47.02 348.53,47.40 348.78,47.78 349.03,48.15 349.28,48.52 349.53,48.89 349.78,49.25 350.02,49.61 350.27,49.97 350.52,50.32 350.76,50.67 350.77,50.68 351.02,51.03 351.27,51.38 351.51,51.73 351.76,52.07 352.01,52.42 352.26,52.77 352.51,53.11 352.76,53.45 353.00,53.78 353.25,54.12 353.50,54.44 353.75,54.76 354.00,55.08 354.25,55.39 354.49,55.70 354.74,56.00 354.99,56.29 355.24,56.57 355.49,56.85 355.71,57.08 355.74,57.11 355.98,57.37 356.23,57.63 356.48,57.89 356.73,58.14 356.98,58.38 357.23,58.63 357.47,58.87 357.72,59.10 357.97,59.34 358.22,59.56 358.47,59.79 358.72,60.01 358.96,60.23 359.21,60.44 359.46,60.65 359.71,60.86 359.96,61.06 360.21,61.25 360.45,61.45 360.70,61.64 360.95,61.82 361.20,62.00 361.43,62.17 361.45,62.18 361.70,62.35 361.94,62.53 362.19,62.70 362.44,62.87 362.69,63.03 362.94,63.20 363.19,63.36 363.43,63.52 363.68,63.68 363.93,63.84 364.18,63.99 364.43,64.14 364.68,64.29 364.92,64.44 365.17,64.58 365.42,64.72 365.67,64.85 365.92,64.99 366.17,65.12 366.41,65.24 366.66,65.36 366.91,65.48 367.16,65.60 367.41,65.71 367.66,65.81 367.90,65.92 367.93,65.93 368.15,66.01 368.40,66.11 368.65,66.21 368.90,66.30 369.15,66.39 369.39,66.48 369.64,66.57 369.89,66.65 370.14,66.74 370.39,66.82 370.64,66.90 370.88,66.98 371.13,67.06 371.38,67.14 371.63,67.21 371.88,67.28 372.13,67.35 372.37,67.42 372.62,67.49 372.87,67.55 373.12,67.61 373.37,67.67 373.62,67.73 373.86,67.79 374.11,67.85 374.36,67.90 374.44,67.92 374.61,67.95 374.86,68.00 375.11,68.06 375.35,68.11 375.60,68.15 375.85,68.20 376.10,68.25 376.35,68.30 376.60,68.34 376.84,68.39 377.09,68.43 377.34,68.48 377.59,68.52 377.84,68.56 378.09,68.60 378.33,68.64 378.58,68.68 378.83,68.72 379.08,68.76 379.33,68.79 379.58,68.83 379.82,68.87 380.07,68.90 380.32,68.93 380.57,68.96 380.82,69.00 381.07,69.03 381.31,69.05 381.56,69.08 381.81,69.11 382.06,69.14 382.24,69.15 382.31,69.16 382.56,69.19 382.80,69.21 383.05,69.24 383.30,69.26 383.55,69.28 383.80,69.31 384.05,69.33 384.29,69.35 384.54,69.37 384.79,69.40 385.04,69.42 385.29,69.44 385.54,69.46 385.78,69.48 386.03,69.50 386.28,69.52 386.53,69.54 386.78,69.56 387.03,69.58 387.27,69.60 387.52,69.61 387.77,69.63 388.02,69.65 388.27,69.66 388.52,69.68 388.76,69.70 389.01,69.71 389.26,69.73 389.51,69.74 389.76,69.76 390.01,69.77 390.25,69.78 390.50,69.80 390.75,69.81 391.00,69.82 391.25,69.83 391.50,69.84 391.74,69.85 391.99,69.86 391.99,69.86 392.24,69.87 392.49,69.88 392.74,69.89 392.99,69.90 393.23,69.91 393.48,69.92 393.73,69.93 393.98,69.94 394.23,69.95 394.48,69.96 394.72,69.97 394.97,69.98 395.22,69.99 395.47,70.00 395.72,70.00 395.97,70.01 396.21,70.02 396.46,70.03 396.71,70.04 396.96,70.05 397.21,70.06 397.46,70.06 397.70,70.07 397.95,70.08 398.20,70.09 398.45,70.10 398.70,70.10 398.95,70.11 399.19,70.12 399.44,70.12 399.69,70.13 399.94,70.14 400.19,70.14 400.44,70.15 400.68,70.16 400.93,70.16 401.18,70.17 401.43,70.17 401.68,70.18 401.93,70.18 402.17,70.19 402.42,70.19 402.67,70.19 402.92,70.20 403.17,70.20 403.42,70.20 403.66,70.21 403.91,70.21 404.16,70.21 404.41,70.21 404.66,70.21 404.91,70.21 405.15,70.22 405.40,70.22 405.65,70.22" fill="none" stroke="#ff1414" stroke-width="1.25" stroke-linejoin="round" stroke-linecap="round"/>
<polyline clip-path="url(#c2)" points="301.60,92.02 301.85,92.02 302.10,92.02 302.34,92.02 302.59,92.02 302.84,92.02 303.09,92.02 303.34,92.02 303.59,92.02 303.83,92.02 304.08,92.02 304.33,92.02 304.58,92.02 304.83,92.02 305.08,92.02 305.32,92.02 305.57,92.02 305.82,92.02 306.07,92.02 306.32,92.02 306.57,92.02 306.81,92.02 307.06,92.02 307.31,92.02 307.56,92.02 307.81,92.02 308.06,92.02 308.30,92.02 308.55,92.02 308.80,92.02 309.05,92.02 309.30,92.02 309.55,92.02 309.79,92.02 310.04,92.02 310.29,92.02 310.54,92.02 310.79,92.02 311.04,92.02 311.28,92.02 311.53,92.02 311.78,92.02 312.03,92.02 312.28,92.02 312.53,92.02 312.77,92.02 313.02,92.02 313.27,92.02 313.52,92.02 313.77,92.02 314.02,92.02 314.26,92.02 314.51,92.02 314.76,92.02 315.01,92.02 315.26,92.02 315.51,92.02 315.75,92.02 316.00,92.02 316.25,92.02 316.50,92.02 316.75,92.02 317.00,92.02 317.24,92.02 317.49,92.02 317.74,92.02 317.99,92.02 318.24,92.02 318.49,92.02 318.73,92.02 318.98,92.02 319.23,92.02 319.48,92.02 319.73,92.02 319.98,92.02 320.22,92.02 320.47,92.02 320.72,92.02 320.97,92.02 321.22,92.02 321.47,92.02 321.71,92.02 321.96,92.02 322.21,92.02 322.46,92.02 322.71,92.02 322.96,92.02 323.20,92.02 323.45,92.02 323.70,92.02 323.95,92.02 324.20,92.02 324.45,92.02 324.69,92.02 324.88,92.02 324.94,92.02 325.19,91.95 325.44,91.78 325.69,91.51 325.94,91.15 326.18,90.69 326.18,90.69 326.43,88.89 326.68,85.20 326.93,80.50 326.96,79.86 327.18,73.87 327.43,64.83 327.61,58.63 327.67,56.84 327.92,49.78 328.17,43.37 328.39,38.73 328.42,38.25 328.67,34.11 328.92,30.53 329.16,27.63 329.30,26.34 329.41,25.44 329.66,23.54 329.91,21.89 330.16,20.57 330.41,19.66 330.47,19.49 330.65,19.09 330.90,18.61 331.15,18.20 331.40,17.90 331.65,17.74 331.77,17.72 331.90,17.74 332.14,17.95 332.39,18.32 332.64,18.80 332.89,19.36 333.14,19.95 333.39,20.51 333.47,20.68 333.63,21.04 333.88,21.61 334.13,22.21 334.38,22.84 334.63,23.50 334.88,24.18 335.12,24.88 335.37,25.59 335.62,26.31 335.87,27.03 335.94,27.23 336.12,27.76 336.37,28.54 336.61,29.34 336.86,30.16 337.11,30.99 337.36,31.83 337.61,32.65 337.86,33.45 338.10,34.23 338.28,34.75 338.35,34.96 338.60,35.68 338.85,36.38 339.10,37.06 339.35,37.74 339.59,38.40 339.84,39.05 340.09,39.70 340.34,40.34 340.59,40.97 340.75,41.38 340.84,41.60 341.08,42.23 341.33,42.85 341.58,43.47 341.83,44.09 342.08,44.70 342.33,45.30 342.57,45.90 342.82,46.49 343.07,47.08 343.32,47.65 343.57,48.22 343.82,48.78 344.06,49.33 344.13,49.47 344.31,49.87 344.56,50.41 344.81,50.94 345.06,51.47 345.31,52.00 345.55,52.51 345.80,53.02 346.05,53.52 346.30,54.01 346.55,54.48 346.80,54.95 347.04,55.39 347.29,55.82 347.38,55.97 347.54,56.24 347.79,56.65 348.04,57.05 348.29,57.44 348.53,57.82 348.78,58.20 349.03,58.56 349.28,58.92 349.53,59.28 349.78,59.62 350.02,59.96 350.27,60.29 350.52,60.62 350.77,60.93 351.02,61.24 351.27,61.55 351.41,61.72 351.51,61.84 351.76,62.14 352.01,62.43 352.26,62.71 352.51,63.00 352.76,63.28 353.00,63.55 353.25,63.82 353.50,64.09 353.75,64.35 354.00,64.61 354.25,64.85 354.49,65.10 354.74,65.33 354.99,65.56 355.24,65.79 355.49,66.00 355.74,66.21 355.98,66.40 356.23,66.59 356.23,66.59 356.48,66.78 356.73,66.96 356.98,67.13 357.23,67.31 357.47,67.48 357.72,67.64 357.97,67.81 358.22,67.97 358.47,68.12 358.72,68.28 358.96,68.43 359.21,68.57 359.46,68.72 359.71,68.86 359.96,69.00 360.21,69.13 360.45,69.26 360.70,69.39 360.95,69.52 361.20,69.64 361.45,69.77 361.70,69.88 361.94,70.00 362.19,70.11 362.44,70.22 362.69,70.33 362.73,70.35 362.94,70.44 363.19,70.54 363.43,70.65 363.68,70.75 363.93,70.85 364.18,70.94 364.43,71.04 364.68,71.14 364.92,71.23 365.17,71.32 365.42,71.41 365.67,71.50 365.92,71.59 366.17,71.67 366.41,71.75 366.66,71.84 366.91,71.92 367.16,71.99 367.41,72.07 367.66,72.14 367.90,72.21 368.15,72.28 368.40,72.35 368.65,72.42 368.90,72.48 369.15,72.54 369.23,72.56 369.39,72.60 369.64,72.66 369.89,72.71 370.14,72.77 370.39,72.83 370.64,72.88 370.88,72.94 371.13,72.99 371.38,73.04 371.63,73.09 371.88,73.14 372.13,73.19 372.37,73.24 372.62,73.29 372.87,73.34 373.12,73.39 373.37,73.43 373.62,73.48 373.86,73.52 374.11,73.56 374.36,73.60 374.61,73.64 374.86,73.68 375.11,73.72 375.35,73.76 375.60,73.80 375.85,73.83 376.10,73.87 376.35,73.90 376.60,73.93 376.84,73.96 377.09,74.00 377.30,74.02 377.34,74.03 377.59,74.05 377.84,74.08 378.09,74.11 378.33,74.14 378.58,74.17 378.83,74.20 379.08,74.23 379.33,74.25 379.58,74.28 379.82,74.31 380.07,74.33 380.32,74.36 380.57,74.39 380.82,74.41 381.07,74.44 381.31,74.46 381.56,74.49 381.81,74.51 382.06,74.54 382.31,74.56 382.56,74.58 382.80,74.61 383.05,74.63 383.30,74.65 383.55,74.67 383.80,74.69 384.05,74.71 384.29,74.73 384.54,74.75 384.79,74.77 385.04,74.79 385.29,74.81 385.54,74.83 385.78,74.84 386.03,74.86 386.28,74.87 386.53,74.89 386.78,74.90 387.03,74.92 387.27,74.93 387.52,74.94 387.77,74.95 388.02,74.96 388.27,74.98 388.52,74.98 388.74,74.99 388.76,74.99 389.01,75.00 389.26,75.01 389.51,75.02 389.76,75.03 390.01,75.04 390.25,75.04 390.50,75.05 390.75,75.06 391.00,75.07 391.25,75.08 391.50,75.09 391.74,75.09 391.99,75.10 392.24,75.11 392.49,75.12 392.74,75.12 392.99,75.13 393.23,75.14 393.48,75.15 393.73,75.15 393.98,75.16 394.23,75.17 394.48,75.18 394.72,75.18 394.97,75.19 395.22,75.20 395.47,75.20 395.72,75.21 395.97,75.21 396.21,75.22 396.46,75.23 396.71,75.23 396.96,75.24 397.21,75.24 397.46,75.25 397.70,75.26 397.95,75.26 398.20,75.27 398.45,75.27 398.70,75.28 398.95,75.28 399.19,75.28 399.44,75.29 399.69,75.29 399.94,75.30 400.19,75.30 400.44,75.31 400.68,75.31 400.93,75.31 401.18,75.32 401.43,75.32 401.68,75.32 401.93,75.33 402.17,75.33 402.42,75.33 402.67,75.33 402.92,75.34 403.17,75.34 403.42,75.34 403.66,75.34 403.91,75.34 404.16,75.34 404.41,75.34 404.66,75.35 404.91,75.35 405.15,75.35 405.40,75.35 405.65,75.35" fill="none" stroke="#1010ff" stroke-width="1.25" stroke-linejoin="round" stroke-linecap="round"/>
<text class="t" x="301.60" y="180.00" transform="rotate(.03 301.60 180.00)" text-anchor="middle">0</text>
<text class="t" x="327.61" y="180.00" transform="rotate(.03 327.61 180.00)" text-anchor="middle">2</text>
<text class="t" x="353.62" y="180.00" transform="rotate(.03 353.62 180.00)" text-anchor="middle">4</text>
<text class="t" x="379.64" y="180.00" transform="rotate(.03 379.64 180.00)" text-anchor="middle">6</text>
<text class="t" x="405.65" y="180.00" transform="rotate(.03 405.65 180.00)" text-anchor="middle">8</text>
<text class="t" x="298.30" y="173.18" transform="rotate(.03 298.30 173.18)" text-anchor="end">35</text>
<text class="t" x="298.30" y="150.93" transform="rotate(.03 298.30 150.93)" text-anchor="end">40</text>
<text class="t" x="298.30" y="128.68" transform="rotate(.03 298.30 128.68)" text-anchor="end">45</text>
<text class="t" x="298.30" y="106.43" transform="rotate(.03 298.30 106.43)" text-anchor="end">50</text>
<text class="t" x="298.30" y="84.17" transform="rotate(.03 298.30 84.17)" text-anchor="end">55</text>
<text class="t" x="298.30" y="61.92" transform="rotate(.03 298.30 61.92)" text-anchor="end">60</text>
<text class="t" x="298.30" y="39.67" transform="rotate(.03 298.30 39.67)" text-anchor="end">65</text>
<text class="t" x="298.30" y="17.42" transform="rotate(.03 298.30 17.42)" text-anchor="end">70</text>
<text class="l" x="353.62" y="190.10" transform="rotate(.03 353.62 190.10)" text-anchor="middle">Time (s)</text>
<text class="l" transform="translate(287.40 91.80) rotate(-89.97)" text-anchor="middle">Compressor Efficiency (%)</text>
<text class="h" x="353.62" y="11.30" transform="rotate(.03 353.62 11.30)" text-anchor="middle">(C)</text>
</g>
<g>
<rect x="439.40" y="14.40" width="104.05" height="154.80" fill="#ffffff"/>
<path d="M445.90 14.40V169.20M452.41 14.40V169.20M458.91 14.40V169.20M471.92 14.40V169.20M478.42 14.40V169.20M484.92 14.40V169.20M497.93 14.40V169.20M504.43 14.40V169.20M510.93 14.40V169.20M523.94 14.40V169.20M530.44 14.40V169.20M536.95 14.40V169.20M439.40 162.75H543.45M439.40 156.30H543.45M439.40 149.85H543.45M439.40 136.95H543.45M439.40 130.50H543.45M439.40 124.05H543.45M439.40 111.15H543.45M439.40 104.70H543.45M439.40 98.25H543.45M439.40 85.35H543.45M439.40 78.90H543.45M439.40 72.45H543.45M439.40 59.55H543.45M439.40 53.10H543.45M439.40 46.65H543.45M439.40 33.75H543.45M439.40 27.30H543.45M439.40 20.85H543.45" stroke="#f5f5f5" stroke-width="0.7" fill="none"/>
<path d="M465.41 14.40V169.20M491.42 14.40V169.20M517.44 14.40V169.20M439.40 143.40H543.45M439.40 117.60H543.45M439.40 91.80H543.45M439.40 66.00H543.45M439.40 40.20H543.45" stroke="#e7e7e7" stroke-width="0.8" fill="none"/>
<path d="M439.40 14.00V169.60M543.45 14.00V169.60M465.41 169.20v-1.20M465.41 14.40v1.20M491.42 169.20v-1.20M491.42 14.40v1.20M517.44 169.20v-1.20M517.44 14.40v1.20" stroke="#8e8e8e" stroke-width="1.25" fill="none"/>
<path d="M438.90 14.40H543.95M438.90 169.20H543.95M439.40 143.40h1.20M543.45 143.40h-1.20M439.40 117.60h1.20M543.45 117.60h-1.20M439.40 91.80h1.20M543.45 91.80h-1.20M439.40 66.00h1.20M543.45 66.00h-1.20M439.40 40.20h1.20M543.45 40.20h-1.20" stroke="#5e5e5e" stroke-width="0.9" fill="none"/>
<clipPath id="c3"><rect x="438.75" y="14.40" width="105.35" height="154.80"/></clipPath>
<polyline clip-path="url(#c3)" points="439.40,129.47 439.65,129.47 439.90,129.47 440.14,129.47 440.39,129.47 440.64,129.47 440.89,129.47 441.14,129.47 441.39,129.47 441.63,129.47 441.88,129.47 442.13,129.47 442.38,129.47 442.63,129.47 442.88,129.47 443.12,129.47 443.37,129.47 443.62,129.47 443.87,129.47 444.12,129.47 444.37,129.47 444.61,129.47 444.86,129.47 445.11,129.47 445.36,129.47 445.61,129.47 445.86,129.47 446.10,129.47 446.35,129.47 446.60,129.47 446.85,129.47 447.10,129.47 447.35,129.47 447.59,129.47 447.84,129.47 448.09,129.47 448.34,129.47 448.59,129.47 448.84,129.47 449.08,129.47 449.33,129.47 449.58,129.47 449.83,129.47 450.08,129.47 450.33,129.47 450.57,129.47 450.82,129.47 451.07,129.47 451.32,129.47 451.57,129.47 451.82,129.47 452.06,129.47 452.31,129.47 452.56,129.47 452.81,129.47 453.06,129.47 453.31,129.47 453.55,129.47 453.80,129.47 454.05,129.47 454.30,129.47 454.55,129.47 454.80,129.47 455.04,129.47 455.29,129.47 455.54,129.47 455.79,129.47 456.04,129.47 456.29,129.47 456.53,129.47 456.78,129.47 457.03,129.47 457.28,129.47 457.53,129.47 457.78,129.47 458.02,129.47 458.27,129.47 458.52,129.47 458.77,129.47 459.02,129.47 459.27,129.47 459.51,129.47 459.76,129.47 460.01,129.47 460.26,129.47 460.51,129.47 460.76,129.47 461.00,129.47 461.25,129.47 461.50,129.47 461.75,129.47 462.00,129.47 462.25,129.47 462.42,129.47 462.49,129.22 462.74,125.55 462.81,124.05 462.99,111.03 463.24,86.35 463.33,83.29 463.49,85.32 463.74,93.79 463.85,98.25 463.98,104.73 464.23,122.11 464.48,139.45 464.73,148.54 464.76,148.69 464.98,146.67 465.23,140.50 465.47,132.13 465.72,123.55 465.93,117.60 465.97,116.70 466.22,110.86 466.47,105.18 466.72,99.90 466.96,95.29 467.10,93.09 467.21,91.55 467.46,88.53 467.71,85.90 467.96,83.36 468.21,80.62 468.27,79.80 468.45,77.35 468.70,73.66 468.95,70.33 469.05,69.23 469.20,67.89 469.45,65.84 469.70,64.04 469.94,62.45 470.19,61.02 470.22,60.84 470.44,59.70 470.69,58.50 470.94,57.41 471.19,56.43 471.40,55.68 471.43,55.55 471.68,54.77 471.93,54.07 472.18,53.42 472.43,52.80 472.68,52.17 472.92,51.51 472.96,51.42 473.17,50.80 473.42,50.07 473.67,49.31 473.92,48.54 474.17,47.78 474.41,47.04 474.66,46.33 474.91,45.65 475.16,45.03 475.30,44.71 475.41,44.47 475.66,43.89 475.90,43.30 476.15,42.72 476.40,42.17 476.65,41.66 476.90,41.22 477.15,40.86 477.39,40.60 477.64,40.46 477.64,40.46 477.89,40.38 478.14,40.31 478.39,40.25 478.64,40.20 478.88,40.15 479.13,40.12 479.38,40.09 479.63,40.08 479.85,40.07 479.88,40.07 480.13,40.16 480.37,40.37 480.62,40.63 480.87,40.91 481.12,41.16 481.37,41.32 481.54,41.36 481.62,41.36 481.86,41.28 482.11,41.11 482.36,40.87 482.61,40.57 482.86,40.23 483.11,39.87 483.23,39.68 483.35,39.46 483.60,38.82 483.85,38.00 484.10,37.07 484.35,36.13 484.60,35.27 484.84,34.57 484.92,34.39 485.09,34.05 485.34,33.57 485.59,33.11 485.84,32.69 486.09,32.29 486.33,31.92 486.58,31.57 486.83,31.26 487.08,30.97 487.33,30.71 487.52,30.53 487.58,30.48 487.82,30.26 488.07,30.04 488.32,29.83 488.57,29.63 488.82,29.45 489.07,29.29 489.31,29.14 489.56,29.02 489.81,28.93 490.06,28.86 490.12,28.85 490.31,28.82 490.56,28.79 490.80,28.76 491.05,28.74 491.30,28.72 491.55,28.70 491.80,28.68 492.05,28.67 492.29,28.65 492.54,28.62 492.79,28.60 492.86,28.59 493.04,28.57 493.29,28.53 493.54,28.50 493.78,28.46 494.03,28.42 494.28,28.37 494.53,28.33 494.78,28.28 495.03,28.23 495.27,28.18 495.52,28.12 495.77,28.06 496.02,28.00 496.24,27.94 496.27,27.94 496.52,27.86 496.76,27.78 497.01,27.69 497.26,27.58 497.51,27.47 497.76,27.36 498.01,27.25 498.25,27.13 498.50,27.01 498.75,26.89 499.00,26.78 499.25,26.67 499.50,26.57 499.62,26.53 499.74,26.48 499.99,26.39 500.24,26.29 500.49,26.20 500.74,26.10 500.99,26.01 501.23,25.92 501.48,25.83 501.73,25.74 501.98,25.65 502.23,25.57 502.48,25.48 502.72,25.41 502.97,25.34 503.22,25.27 503.47,25.20 503.72,25.15 503.91,25.11 503.97,25.10 504.21,25.05 504.46,25.00 504.71,24.95 504.96,24.90 505.21,24.85 505.46,24.80 505.70,24.75 505.95,24.71 506.20,24.66 506.45,24.62 506.70,24.58 506.95,24.54 507.19,24.50 507.44,24.46 507.69,24.42 507.94,24.39 508.19,24.36 508.44,24.33 508.68,24.30 508.93,24.28 509.18,24.26 509.43,24.24 509.68,24.23 509.93,24.22 510.17,24.21 510.42,24.20 510.54,24.20 510.67,24.20 510.92,24.20 511.17,24.20 511.42,24.20 511.66,24.20 511.91,24.20 512.16,24.20 512.41,24.20 512.66,24.20 512.91,24.20 513.15,24.20 513.40,24.20 513.65,24.20 513.90,24.20 514.15,24.20 514.40,24.20 514.64,24.20 514.89,24.20 515.14,24.20 515.39,24.20 515.64,24.20 515.89,24.20 516.13,24.20 516.38,24.20 516.63,24.20 516.88,24.20 517.13,24.20 517.31,24.20 517.38,24.20 517.62,24.20 517.87,24.21 518.12,24.21 518.37,24.21 518.62,24.22 518.87,24.23 519.11,24.23 519.36,24.24 519.61,24.25 519.86,24.26 520.11,24.27 520.36,24.28 520.60,24.30 520.85,24.31 521.10,24.32 521.35,24.34 521.60,24.35 521.85,24.37 522.09,24.38 522.34,24.40 522.59,24.42 522.84,24.43 523.09,24.45 523.34,24.47 523.58,24.49 523.83,24.51 524.08,24.52 524.33,24.54 524.58,24.56 524.83,24.58 525.07,24.60 525.32,24.61 525.57,24.63 525.82,24.65 526.07,24.67 526.32,24.68 526.56,24.70 526.81,24.72 527.06,24.73 527.31,24.75 527.56,24.77 527.81,24.78 528.05,24.79 528.30,24.81 528.55,24.82 528.80,24.83 529.05,24.84 529.14,24.85 529.30,24.86 529.54,24.87 529.79,24.88 530.04,24.89 530.29,24.90 530.54,24.91 530.79,24.92 531.03,24.93 531.28,24.94 531.53,24.95 531.78,24.96 532.03,24.97 532.28,24.98 532.52,24.99 532.77,25.00 533.02,25.01 533.27,25.02 533.52,25.03 533.77,25.04 534.01,25.05 534.26,25.06 534.51,25.07 534.76,25.08 535.01,25.09 535.26,25.10 535.50,25.11 535.75,25.12 536.00,25.13 536.25,25.14 536.50,25.15 536.75,25.15 536.99,25.16 537.24,25.17 537.49,25.18 537.74,25.19 537.99,25.20 538.24,25.21 538.48,25.22 538.73,25.22 538.98,25.23 539.23,25.24 539.48,25.25 539.73,25.26 539.97,25.26 540.22,25.27 540.47,25.28 540.72,25.29 540.97,25.30 541.22,25.30 541.46,25.31 541.71,25.32 541.96,25.32 542.21,25.33 542.46,25.34 542.71,25.35 542.95,25.35 543.20,25.36 543.45,25.36" fill="none" stroke="#ff1414" stroke-width="1.25" stroke-linejoin="round" stroke-linecap="round"/>
<polyline clip-path="url(#c3)" points="439.40,148.17 439.65,148.17 439.90,148.17 440.14,148.17 440.39,148.17 440.64,148.17 440.89,148.17 441.14,148.17 441.39,148.17 441.63,148.17 441.88,148.17 442.13,148.17 442.38,148.17 442.63,148.17 442.88,148.17 443.12,148.17 443.37,148.17 443.62,148.17 443.87,148.17 444.12,148.17 444.37,148.17 444.61,148.17 444.86,148.17 445.11,148.17 445.36,148.17 445.61,148.17 445.86,148.17 446.10,148.17 446.35,148.17 446.60,148.17 446.85,148.17 447.10,148.17 447.35,148.17 447.59,148.17 447.84,148.17 448.09,148.17 448.34,148.17 448.59,148.17 448.84,148.17 449.08,148.17 449.33,148.17 449.58,148.17 449.83,148.17 450.08,148.17 450.33,148.17 450.57,148.17 450.82,148.17 451.07,148.17 451.32,148.17 451.57,148.17 451.82,148.17 452.06,148.17 452.31,148.17 452.56,148.17 452.81,148.17 453.06,148.17 453.31,148.17 453.55,148.17 453.80,148.17 454.05,148.17 454.30,148.17 454.55,148.17 454.80,148.17 455.04,148.17 455.29,148.17 455.54,148.17 455.79,148.17 456.04,148.17 456.29,148.17 456.53,148.17 456.78,148.17 457.03,148.17 457.28,148.17 457.53,148.17 457.78,148.17 458.02,148.17 458.27,148.17 458.52,148.17 458.77,148.17 459.02,148.17 459.27,148.17 459.51,148.17 459.76,148.17 460.01,148.17 460.26,148.17 460.51,148.17 460.76,148.17 461.00,148.17 461.25,148.17 461.50,148.17 461.75,148.17 462.00,148.17 462.25,148.17 462.42,148.17 462.49,147.98 462.74,144.84 462.81,143.40 462.99,117.06 463.20,86.51 463.24,86.61 463.49,91.15 463.72,98.25 463.74,98.71 463.98,111.59 464.23,127.20 464.48,135.60 464.50,135.66 464.73,134.61 464.98,131.55 465.23,127.25 465.47,122.49 465.67,118.89 465.72,118.01 465.97,112.99 466.22,107.32 466.47,101.64 466.72,96.55 466.84,94.38 466.96,92.57 467.21,89.27 467.46,86.33 467.71,83.50 467.96,80.52 468.01,79.80 468.21,77.07 468.45,73.33 468.70,70.11 468.79,69.23 468.95,67.96 469.20,66.23 469.45,64.74 469.70,63.43 469.94,62.21 470.19,61.00 470.22,60.84 470.44,59.77 470.69,58.58 470.94,57.46 471.19,56.44 471.40,55.68 471.43,55.55 471.68,54.77 471.93,54.07 472.18,53.42 472.43,52.80 472.68,52.17 472.92,51.51 472.96,51.42 473.17,50.80 473.42,50.07 473.67,49.31 473.92,48.54 474.17,47.78 474.41,47.04 474.66,46.33 474.91,45.65 475.16,45.03 475.30,44.71 475.41,44.47 475.66,43.89 475.90,43.30 476.15,42.72 476.40,42.17 476.65,41.66 476.90,41.22 477.15,40.86 477.39,40.60 477.64,40.46 477.64,40.46 477.89,40.38 478.14,40.31 478.39,40.25 478.64,40.20 478.88,40.15 479.13,40.12 479.38,40.09 479.63,40.08 479.85,40.07 479.88,40.07 480.13,40.16 480.37,40.37 480.62,40.63 480.87,40.91 481.12,41.16 481.37,41.32 481.54,41.36 481.62,41.36 481.86,41.27 482.11,41.08 482.36,40.83 482.61,40.53 482.86,40.19 483.11,39.85 483.23,39.68 483.35,39.51 483.60,39.10 483.85,38.62 484.10,38.09 484.35,37.53 484.60,36.96 484.84,36.40 485.09,35.86 485.31,35.43 485.34,35.37 485.59,34.91 485.84,34.44 486.09,33.97 486.33,33.52 486.58,33.07 486.83,32.64 487.08,32.22 487.33,31.83 487.58,31.46 487.78,31.17 487.82,31.12 488.07,30.79 488.32,30.47 488.57,30.16 488.82,29.86 489.07,29.58 489.31,29.31 489.56,29.05 489.81,28.81 490.06,28.59 490.31,28.39 490.38,28.33 490.56,28.20 490.80,28.01 491.05,27.81 491.30,27.62 491.55,27.44 491.80,27.28 492.05,27.14 492.29,27.03 492.54,26.95 492.79,26.91 492.86,26.91 493.04,26.91 493.29,26.91 493.54,26.91 493.78,26.91 494.03,26.91 494.28,26.91 494.53,26.91 494.78,26.91 495.03,26.91 495.27,26.91 495.52,26.91 495.77,26.91 496.02,26.91 496.24,26.91 496.27,26.91 496.52,26.90 496.76,26.88 497.01,26.84 497.26,26.79 497.51,26.74 497.76,26.67 498.01,26.60 498.25,26.53 498.50,26.45 498.75,26.38 499.00,26.30 499.25,26.23 499.50,26.17 499.62,26.14 499.74,26.11 499.99,26.05 500.24,25.99 500.49,25.92 500.74,25.86 500.99,25.79 501.23,25.72 501.48,25.66 501.73,25.59 501.98,25.53 502.23,25.46 502.48,25.40 502.72,25.34 502.97,25.29 503.22,25.23 503.47,25.19 503.72,25.14 503.91,25.11 503.97,25.10 504.21,25.06 504.46,25.02 504.71,24.99 504.96,24.95 505.21,24.92 505.46,24.88 505.70,24.85 505.95,24.82 506.20,24.79 506.45,24.76 506.70,24.73 506.95,24.70 507.19,24.68 507.44,24.65 507.69,24.62 507.94,24.60 508.19,24.57 508.44,24.55 508.68,24.52 508.93,24.50 509.18,24.47 509.43,24.45 509.68,24.42 509.93,24.40 510.17,24.37 510.42,24.35 510.54,24.33 510.67,24.32 510.92,24.29 511.17,24.27 511.42,24.24 511.66,24.21 511.91,24.19 512.16,24.16 512.41,24.14 512.66,24.11 512.91,24.09 513.15,24.06 513.40,24.03 513.65,24.01 513.90,23.98 514.15,23.96 514.40,23.94 514.64,23.91 514.89,23.89 515.14,23.87 515.39,23.84 515.64,23.82 515.89,23.80 516.13,23.78 516.38,23.76 516.63,23.74 516.88,23.72 517.13,23.70 517.31,23.69 517.38,23.68 517.62,23.67 517.87,23.65 518.12,23.63 518.37,23.61 518.62,23.60 518.87,23.58 519.11,23.56 519.36,23.54 519.61,23.53 519.86,23.51 520.11,23.49 520.36,23.48 520.60,23.46 520.85,23.45 521.10,23.43 521.35,23.41 521.60,23.40 521.85,23.38 522.09,23.37 522.34,23.35 522.59,23.34 522.84,23.32 523.09,23.31 523.34,23.29 523.58,23.28 523.83,23.27 524.08,23.25 524.33,23.24 524.58,23.23 524.83,23.21 525.07,23.20 525.32,23.19 525.57,23.18 525.82,23.17 526.07,23.16 526.32,23.14 526.56,23.13 526.81,23.12 527.06,23.11 527.31,23.10 527.56,23.09 527.81,23.09 528.05,23.08 528.30,23.07 528.55,23.06 528.80,23.05 529.05,23.05 529.14,23.04 529.30,23.04 529.54,23.03 529.79,23.03 530.04,23.02 530.29,23.01 530.54,23.00 530.79,23.00 531.03,22.99 531.28,22.98 531.53,22.98 531.78,22.97 532.03,22.97 532.28,22.96 532.52,22.95 532.77,22.95 533.02,22.94 533.27,22.93 533.52,22.93 533.77,22.92 534.01,22.92 534.26,22.91 534.51,22.90 534.76,22.90 535.01,22.89 535.26,22.89 535.50,22.88 535.75,22.88 536.00,22.87 536.25,22.87 536.50,22.86 536.75,22.86 536.99,22.85 537.24,22.85 537.49,22.84 537.74,22.84 537.99,22.83 538.24,22.83 538.48,22.83 538.73,22.82 538.98,22.82 539.23,22.81 539.48,22.81 539.73,22.81 539.97,22.81 540.22,22.80 540.47,22.80 540.72,22.80 540.97,22.80 541.22,22.79 541.46,22.79 541.71,22.79 541.96,22.79 542.21,22.79 542.46,22.79 542.71,22.79 542.95,22.79 543.20,22.79 543.45,22.79" fill="none" stroke="#1010ff" stroke-width="1.25" stroke-linejoin="round" stroke-linecap="round"/>
<text class="t" x="439.40" y="180.00" transform="rotate(.03 439.40 180.00)" text-anchor="middle">0</text>
<text class="t" x="465.41" y="180.00" transform="rotate(.03 465.41 180.00)" text-anchor="middle">2</text>
<text class="t" x="491.42" y="180.00" transform="rotate(.03 491.42 180.00)" text-anchor="middle">4</text>
<text class="t" x="517.44" y="180.00" transform="rotate(.03 517.44 180.00)" text-anchor="middle">6</text>
<text class="t" x="543.45" y="180.00" transform="rotate(.03 543.45 180.00)" text-anchor="middle">8</text>
<text class="t" x="436.10" y="173.18" transform="rotate(.03 436.10 173.18)" text-anchor="end">58</text>
<text class="t" x="436.10" y="147.22" transform="rotate(.03 436.10 147.22)" text-anchor="end">60</text>
<text class="t" x="436.10" y="121.26" transform="rotate(.03 436.10 121.26)" text-anchor="end">62</text>
<text class="t" x="436.10" y="95.30" transform="rotate(.03 436.10 95.30)" text-anchor="end">64</text>
<text class="t" x="436.10" y="69.34" transform="rotate(.03 436.10 69.34)" text-anchor="end">66</text>
<text class="t" x="436.10" y="43.38" transform="rotate(.03 436.10 43.38)" text-anchor="end">68</text>
<text class="t" x="436.10" y="17.42" transform="rotate(.03 436.10 17.42)" text-anchor="end">70</text>
<text class="l" x="491.42" y="190.10" transform="rotate(.03 491.42 190.10)" text-anchor="middle">Time (s)</text>
<text class="l" transform="translate(424.90 91.80) rotate(-89.97)" text-anchor="middle">Turbine Efficiency(%)</text>
<text class="h" x="491.42" y="11.30" transform="rotate(.03 491.42 11.30)" text-anchor="middle">(D)</text>
<rect x="493.20" y="39.20" width="48.60" height="22.20" fill="#ffffff" stroke="#4a4a4a" stroke-width="0.7"/>
<path d="M495.50 45.10h17.8" stroke="#ff1414" stroke-width="1.25"/>
<path d="M495.50 55.50h17.8" stroke="#1010ff" stroke-width="1.25"/>
<text class="g" x="514.60" y="48.50">Closed</text>
<text class="g" x="514.60" y="59.00">Open</text>
</g>
<g>
<rect x="26.20" y="230.50" width="104.05" height="156.00" fill="#ffffff"/>
<path d="M32.70 230.50V386.50M39.21 230.50V386.50M45.71 230.50V386.50M58.72 230.50V386.50M65.22 230.50V386.50M71.72 230.50V386.50M84.73 230.50V386.50M91.23 230.50V386.50M97.73 230.50V386.50M110.74 230.50V386.50M117.24 230.50V386.50M123.75 230.50V386.50M26.20 380.93H130.25M26.20 375.36H130.25M26.20 369.79H130.25M26.20 358.64H130.25M26.20 353.07H130.25M26.20 347.50H130.25M26.20 336.36H130.25M26.20 330.79H130.25M26.20 325.21H130.25M26.20 314.07H130.25M26.20 308.50H130.25M26.20 302.93H130.25M26.20 291.79H130.25M26.20 286.21H130.25M26.20 280.64H130.25M26.20 269.50H130.25M26.20 263.93H130.25M26.20 258.36H130.25M26.20 247.21H130.25M26.20 241.64H130.25M26.20 236.07H130.25" stroke="#f5f5f5" stroke-width="0.7" fill="none"/>
<path d="M52.21 230.50V386.50M78.22 230.50V386.50M104.24 230.50V386.50M26.20 364.21H130.25M26.20 341.93H130.25M26.20 319.64H130.25M26.20 297.36H130.25M26.20 275.07H130.25M26.20 252.79H130.25" stroke="#e7e7e7" stroke-width="0.8" fill="none"/>
<path d="M26.20 230.10V386.90M130.25 230.10V386.90M52.21 386.50v-1.20M52.21 230.50v1.20M78.22 386.50v-1.20M78.22 230.50v1.20M104.24 386.50v-1.20M104.24 230.50v1.20" stroke="#8e8e8e" stroke-width="1.25" fill="none"/>
<path d="M25.70 230.50H130.75M25.70 386.50H130.75M26.20 364.21h1.20M130.25 364.21h-1.20M26.20 341.93h1.20M130.25 341.93h-1.20M26.20 319.64h1.20M130.25 319.64h-1.20M26.20 297.36h1.20M130.25 297.36h-1.20M26.20 275.07h1.20M130.25 275.07h-1.20M26.20 252.79h1.20M130.25 252.79h-1.20" stroke="#5e5e5e" stroke-width="0.9" fill="none"/>
<clipPath id="c4"><rect x="25.55" y="230.50" width="105.35" height="156.00"/></clipPath>
<path d="M26.20 297.36H130.25" stroke="#000" stroke-width="0.55" fill="none"/>
<polygon clip-path="url(#c4)" points="25.55,297.36 25.55,378.14 26.20,378.14 49.22,378.14 50.52,312.73 50.77,312.44 51.02,312.15 51.27,311.88 51.30,311.84 51.52,311.60 51.77,311.32 52.02,311.08 52.21,310.95 52.27,310.93 52.51,310.82 52.76,310.72 53.01,310.63 53.26,310.57 53.51,310.52 53.76,310.51 53.77,310.51 54.01,310.61 54.26,310.86 54.51,311.12 54.76,311.28 54.81,311.29 55.01,311.15 55.26,310.75 55.50,310.43 55.59,310.39 55.75,310.59 56.00,311.35 56.25,312.06 56.37,312.18 56.50,312.16 56.75,312.01 57.00,311.78 57.15,311.62 57.25,311.51 57.50,311.13 57.75,310.64 58.00,310.09 58.25,309.52 58.46,309.06 58.49,308.98 58.74,308.45 58.99,307.91 59.24,307.37 59.49,306.82 59.74,306.25 59.99,305.68 60.24,305.09 60.49,304.48 60.74,303.86 60.80,303.71 60.99,303.23 61.24,302.59 61.48,301.93 61.73,301.27 61.98,300.57 62.23,299.85 62.48,299.10 62.73,298.30 62.98,297.46 63.01,297.36 63.23,296.54 63.48,295.51 63.73,294.41 63.98,293.24 64.22,292.04 64.47,290.83 64.72,289.62 64.97,288.44 65.22,287.33 65.22,287.32 65.47,286.18 65.72,284.99 65.97,283.77 66.22,282.55 66.47,281.37 66.72,280.24 66.97,279.20 67.21,278.27 67.46,277.49 67.62,277.08 67.71,276.88 67.96,276.38 68.21,275.96 68.46,275.58 68.71,275.23 68.96,274.87 69.21,274.48 69.38,274.18 69.46,274.04 69.71,273.56 69.96,273.07 70.20,272.56 70.45,272.04 70.70,271.50 70.95,270.96 71.20,270.41 71.45,269.86 71.46,269.83 71.70,269.30 71.95,268.73 72.20,268.16 72.45,267.57 72.70,266.96 72.95,266.35 73.02,266.16 73.19,265.72 73.44,265.07 73.69,264.41 73.94,263.73 74.19,263.04 74.44,262.34 74.69,261.64 74.94,260.95 75.19,260.25 75.44,259.56 75.69,258.89 75.88,258.36 75.94,258.22 76.18,257.56 76.43,256.89 76.68,256.21 76.93,255.54 77.18,254.87 77.43,254.20 77.68,253.54 77.93,252.89 78.18,252.25 78.43,251.63 78.68,251.02 78.92,250.43 79.17,249.87 79.27,249.67 79.42,249.32 79.67,248.79 79.92,248.27 80.17,247.77 80.42,247.27 80.67,246.79 80.92,246.32 81.17,245.86 81.42,245.42 81.67,244.98 81.91,244.56 82.00,244.43 82.16,244.15 82.41,243.74 82.66,243.33 82.91,242.93 83.16,242.54 83.41,242.17 83.66,241.82 83.91,241.49 84.16,241.19 84.41,240.92 84.47,240.86 84.66,240.69 84.90,240.47 85.15,240.26 85.40,240.06 85.65,239.88 85.90,239.70 86.15,239.53 86.40,239.38 86.65,239.23 86.90,239.09 87.15,238.95 87.33,238.86 87.40,238.82 87.65,238.69 87.89,238.56 88.14,238.42 88.39,238.29 88.64,238.16 88.89,238.03 89.14,237.92 89.39,237.81 89.64,237.72 89.89,237.64 90.14,237.58 90.39,237.54 90.63,237.52 90.71,237.52 90.88,237.53 91.13,237.56 91.38,237.61 91.63,237.68 91.88,237.76 92.13,237.86 92.38,237.95 92.63,238.04 92.88,238.13 93.05,238.19 93.13,238.21 93.38,238.29 93.62,238.37 93.87,238.45 94.12,238.54 94.37,238.63 94.62,238.71 94.87,238.80 95.12,238.89 95.37,238.98 95.62,239.07 95.87,239.16 96.12,239.25 96.37,239.34 96.61,239.42 96.86,239.51 97.11,239.59 97.36,239.67 97.61,239.75 97.86,239.82 97.99,239.86 98.11,239.89 98.36,239.96 98.61,240.03 98.86,240.10 99.11,240.17 99.36,240.24 99.60,240.31 99.85,240.38 100.10,240.44 100.35,240.51 100.60,240.57 100.85,240.64 101.10,240.70 101.35,240.76 101.60,240.81 101.85,240.87 102.10,240.92 102.35,240.97 102.59,241.02 102.84,241.07 102.94,241.09 103.09,241.11 103.34,241.16 103.59,241.20 103.84,241.24 104.09,241.28 104.34,241.32 104.59,241.36 104.84,241.40 105.09,241.44 105.33,241.47 105.58,241.51 105.83,241.54 106.08,241.58 106.33,241.61 106.58,241.64 106.83,241.68 107.08,241.71 107.33,241.74 107.58,241.77 107.83,241.80 108.08,241.83 108.32,241.86 108.57,241.88 108.82,241.91 109.07,241.94 109.32,241.96 109.44,241.98 109.57,241.99 109.82,242.02 110.07,242.04 110.32,242.07 110.57,242.09 110.82,242.11 111.07,242.14 111.31,242.16 111.56,242.19 111.81,242.21 112.06,242.23 112.31,242.25 112.56,242.27 112.81,242.30 113.06,242.32 113.31,242.34 113.56,242.36 113.81,242.38 114.06,242.40 114.30,242.42 114.55,242.44 114.80,242.46 115.05,242.48 115.30,242.49 115.55,242.51 115.80,242.53 116.05,242.55 116.30,242.56 116.55,242.58 116.80,242.59 117.04,242.61 117.29,242.63 117.54,242.64 117.63,242.65 117.79,242.65 118.04,242.67 118.29,242.68 118.54,242.70 118.79,242.71 119.04,242.73 119.29,242.74 119.54,242.75 119.79,242.77 120.03,242.78 120.28,242.80 120.53,242.81 120.78,242.82 121.03,242.84 121.28,242.85 121.53,242.86 121.78,242.88 122.03,242.89 122.28,242.90 122.53,242.91 122.78,242.93 123.02,242.94 123.27,242.95 123.52,242.96 123.77,242.97 124.02,242.99 124.27,243.00 124.52,243.01 124.77,243.02 125.02,243.03 125.27,243.04 125.52,243.05 125.77,243.06 126.01,243.07 126.26,243.08 126.51,243.09 126.76,243.10 127.01,243.11 127.26,243.12 127.51,243.13 127.76,243.13 128.01,243.14 128.26,243.15 128.51,243.16 128.76,243.17 129.00,243.17 129.25,243.18 129.50,243.19 129.75,243.19 130.00,243.20 130.25,243.20 130.90,243.20 130.90,297.36" fill="#ff0000"/>
<polyline clip-path="url(#c4)" points="26.20,378.14 49.22,378.14 50.52,312.73 50.77,312.44 51.02,312.15 51.27,311.88 51.30,311.84 51.52,311.60 51.77,311.32 52.02,311.08 52.21,310.95 52.27,310.93 52.51,310.82 52.76,310.72 53.01,310.63 53.26,310.57 53.51,310.52 53.76,310.51 53.77,310.51 54.01,310.61 54.26,310.86 54.51,311.12 54.76,311.28 54.81,311.29 55.01,311.15 55.26,310.75 55.50,310.43 55.59,310.39 55.75,310.59 56.00,311.35 56.25,312.06 56.37,312.18 56.50,312.16 56.75,312.01 57.00,311.78 57.15,311.62 57.25,311.51 57.50,311.13 57.75,310.64 58.00,310.09 58.25,309.52 58.46,309.06 58.49,308.98 58.74,308.45 58.99,307.91 59.24,307.37 59.49,306.82 59.74,306.25 59.99,305.68 60.24,305.09 60.49,304.48 60.74,303.86 60.80,303.71 60.99,303.23 61.24,302.59 61.48,301.93 61.73,301.27 61.98,300.57 62.23,299.85 62.48,299.10 62.73,298.30 62.98,297.46 63.01,297.36 63.23,296.54 63.48,295.51 63.73,294.41 63.98,293.24 64.22,292.04 64.47,290.83 64.72,289.62 64.97,288.44 65.22,287.33 65.22,287.32 65.47,286.18 65.72,284.99 65.97,283.77 66.22,282.55 66.47,281.37 66.72,280.24 66.97,279.20 67.21,278.27 67.46,277.49 67.62,277.08 67.71,276.88 67.96,276.38 68.21,275.96 68.46,275.58 68.71,275.23 68.96,274.87 69.21,274.48 69.38,274.18 69.46,274.04 69.71,273.56 69.96,273.07 70.20,272.56 70.45,272.04 70.70,271.50 70.95,270.96 71.20,270.41 71.45,269.86 71.46,269.83 71.70,269.30 71.95,268.73 72.20,268.16 72.45,267.57 72.70,266.96 72.95,266.35 73.02,266.16 73.19,265.72 73.44,265.07 73.69,264.41 73.94,263.73 74.19,263.04 74.44,262.34 74.69,261.64 74.94,260.95 75.19,260.25 75.44,259.56 75.69,258.89 75.88,258.36 75.94,258.22 76.18,257.56 76.43,256.89 76.68,256.21 76.93,255.54 77.18,254.87 77.43,254.20 77.68,253.54 77.93,252.89 78.18,252.25 78.43,251.63 78.68,251.02 78.92,250.43 79.17,249.87 79.27,249.67 79.42,249.32 79.67,248.79 79.92,248.27 80.17,247.77 80.42,247.27 80.67,246.79 80.92,246.32 81.17,245.86 81.42,245.42 81.67,244.98 81.91,244.56 82.00,244.43 82.16,244.15 82.41,243.74 82.66,243.33 82.91,242.93 83.16,242.54 83.41,242.17 83.66,241.82 83.91,241.49 84.16,241.19 84.41,240.92 84.47,240.86 84.66,240.69 84.90,240.47 85.15,240.26 85.40,240.06 85.65,239.88 85.90,239.70 86.15,239.53 86.40,239.38 86.65,239.23 86.90,239.09 87.15,238.95 87.33,238.86 87.40,238.82 87.65,238.69 87.89,238.56 88.14,238.42 88.39,238.29 88.64,238.16 88.89,238.03 89.14,237.92 89.39,237.81 89.64,237.72 89.89,237.64 90.14,237.58 90.39,237.54 90.63,237.52 90.71,237.52 90.88,237.53 91.13,237.56 91.38,237.61 91.63,237.68 91.88,237.76 92.13,237.86 92.38,237.95 92.63,238.04 92.88,238.13 93.05,238.19 93.13,238.21 93.38,238.29 93.62,238.37 93.87,238.45 94.12,238.54 94.37,238.63 94.62,238.71 94.87,238.80 95.12,238.89 95.37,238.98 95.62,239.07 95.87,239.16 96.12,239.25 96.37,239.34 96.61,239.42 96.86,239.51 97.11,239.59 97.36,239.67 97.61,239.75 97.86,239.82 97.99,239.86 98.11,239.89 98.36,239.96 98.61,240.03 98.86,240.10 99.11,240.17 99.36,240.24 99.60,240.31 99.85,240.38 100.10,240.44 100.35,240.51 100.60,240.57 100.85,240.64 101.10,240.70 101.35,240.76 101.60,240.81 101.85,240.87 102.10,240.92 102.35,240.97 102.59,241.02 102.84,241.07 102.94,241.09 103.09,241.11 103.34,241.16 103.59,241.20 103.84,241.24 104.09,241.28 104.34,241.32 104.59,241.36 104.84,241.40 105.09,241.44 105.33,241.47 105.58,241.51 105.83,241.54 106.08,241.58 106.33,241.61 106.58,241.64 106.83,241.68 107.08,241.71 107.33,241.74 107.58,241.77 107.83,241.80 108.08,241.83 108.32,241.86 108.57,241.88 108.82,241.91 109.07,241.94 109.32,241.96 109.44,241.98 109.57,241.99 109.82,242.02 110.07,242.04 110.32,242.07 110.57,242.09 110.82,242.11 111.07,242.14 111.31,242.16 111.56,242.19 111.81,242.21 112.06,242.23 112.31,242.25 112.56,242.27 112.81,242.30 113.06,242.32 113.31,242.34 113.56,242.36 113.81,242.38 114.06,242.40 114.30,242.42 114.55,242.44 114.80,242.46 115.05,242.48 115.30,242.49 115.55,242.51 115.80,242.53 116.05,242.55 116.30,242.56 116.55,242.58 116.80,242.59 117.04,242.61 117.29,242.63 117.54,242.64 117.63,242.65 117.79,242.65 118.04,242.67 118.29,242.68 118.54,242.70 118.79,242.71 119.04,242.73 119.29,242.74 119.54,242.75 119.79,242.77 120.03,242.78 120.28,242.80 120.53,242.81 120.78,242.82 121.03,242.84 121.28,242.85 121.53,242.86 121.78,242.88 122.03,242.89 122.28,242.90 122.53,242.91 122.78,242.93 123.02,242.94 123.27,242.95 123.52,242.96 123.77,242.97 124.02,242.99 124.27,243.00 124.52,243.01 124.77,243.02 125.02,243.03 125.27,243.04 125.52,243.05 125.77,243.06 126.01,243.07 126.26,243.08 126.51,243.09 126.76,243.10 127.01,243.11 127.26,243.12 127.51,243.13 127.76,243.13 128.01,243.14 128.26,243.15 128.51,243.16 128.76,243.17 129.00,243.17 129.25,243.18 129.50,243.19 129.75,243.19 130.00,243.20 130.25,243.20" fill="none" stroke="#000" stroke-width="0.5" stroke-linejoin="round"/>
<text class="t" x="26.20" y="397.30" transform="rotate(.03 26.20 397.30)" text-anchor="middle">0</text>
<text class="t" x="52.21" y="397.30" transform="rotate(.03 52.21 397.30)" text-anchor="middle">2</text>
<text class="t" x="78.22" y="397.30" transform="rotate(.03 78.22 397.30)" text-anchor="middle">4</text>
<text class="t" x="104.24" y="397.30" transform="rotate(.03 104.24 397.30)" text-anchor="middle">6</text>
<text class="t" x="130.25" y="397.30" transform="rotate(.03 130.25 397.30)" text-anchor="middle">8</text>
<text class="t" x="22.90" y="390.48" transform="rotate(.03 22.90 390.48)" text-anchor="end">-8</text>
<text class="t" x="22.90" y="368.06" transform="rotate(.03 22.90 368.06)" text-anchor="end">-6</text>
<text class="t" x="22.90" y="345.64" transform="rotate(.03 22.90 345.64)" text-anchor="end">-4</text>
<text class="t" x="22.90" y="323.21" transform="rotate(.03 22.90 323.21)" text-anchor="end">-2</text>
<text class="t" x="22.90" y="300.79" transform="rotate(.03 22.90 300.79)" text-anchor="end">0</text>
<text class="t" x="22.90" y="278.36" transform="rotate(.03 22.90 278.36)" text-anchor="end">2</text>
<text class="t" x="22.90" y="255.94" transform="rotate(.03 22.90 255.94)" text-anchor="end">4</text>
<text class="t" x="22.90" y="233.52" transform="rotate(.03 22.90 233.52)" text-anchor="end">6</text>
<text class="l" x="78.22" y="407.40" transform="rotate(.03 78.22 407.40)" text-anchor="middle">Time (s)</text>
<text class="l" transform="translate(11.70 308.50) rotate(-89.97)" text-anchor="middle">BMEP % Difference</text>
<text class="h" x="78.22" y="227.40" transform="rotate(.03 78.22 227.40)" text-anchor="middle">(E)</text>
</g>
<g>
<rect x="163.90" y="230.50" width="104.05" height="156.00" fill="#ffffff"/>
<path d="M170.40 230.50V386.50M176.91 230.50V386.50M183.41 230.50V386.50M196.42 230.50V386.50M202.92 230.50V386.50M209.42 230.50V386.50M222.43 230.50V386.50M228.93 230.50V386.50M235.43 230.50V386.50M248.44 230.50V386.50M254.94 230.50V386.50M261.45 230.50V386.50M163.90 380.93H267.95M163.90 375.36H267.95M163.90 369.79H267.95M163.90 358.64H267.95M163.90 353.07H267.95M163.90 347.50H267.95M163.90 336.36H267.95M163.90 330.79H267.95M163.90 325.21H267.95M163.90 314.07H267.95M163.90 308.50H267.95M163.90 302.93H267.95M163.90 291.79H267.95M163.90 286.21H267.95M163.90 280.64H267.95M163.90 269.50H267.95M163.90 263.93H267.95M163.90 258.36H267.95M163.90 247.21H267.95M163.90 241.64H267.95M163.90 236.07H267.95" stroke="#f5f5f5" stroke-width="0.7" fill="none"/>
<path d="M189.91 230.50V386.50M215.93 230.50V386.50M241.94 230.50V386.50M163.90 364.21H267.95M163.90 341.93H267.95M163.90 319.64H267.95M163.90 297.36H267.95M163.90 275.07H267.95M163.90 252.79H267.95" stroke="#e7e7e7" stroke-width="0.8" fill="none"/>
<path d="M163.90 230.10V386.90M267.95 230.10V386.90M189.91 386.50v-1.20M189.91 230.50v1.20M215.93 386.50v-1.20M215.93 230.50v1.20M241.94 386.50v-1.20M241.94 230.50v1.20" stroke="#8e8e8e" stroke-width="1.25" fill="none"/>
<path d="M163.40 230.50H268.45M163.40 386.50H268.45M163.90 364.21h1.20M267.95 364.21h-1.20M163.90 341.93h1.20M267.95 341.93h-1.20M163.90 319.64h1.20M267.95 319.64h-1.20M163.90 297.36h1.20M267.95 297.36h-1.20M163.90 275.07h1.20M267.95 275.07h-1.20M163.90 252.79h1.20M267.95 252.79h-1.20" stroke="#5e5e5e" stroke-width="0.9" fill="none"/>
<clipPath id="c5"><rect x="163.25" y="230.50" width="105.35" height="156.00"/></clipPath>
<path d="M163.90 341.93H267.95" stroke="#000" stroke-width="0.55" fill="none"/>
<polygon clip-path="url(#c5)" points="163.25,341.93 163.25,362.65 163.90,362.65 164.15,362.65 164.40,362.65 164.64,362.65 164.89,362.65 165.14,362.65 165.39,362.65 165.64,362.65 165.89,362.65 166.13,362.65 166.38,362.65 166.63,362.65 166.88,362.65 167.13,362.65 167.38,362.65 167.62,362.65 167.87,362.65 168.12,362.65 168.37,362.65 168.62,362.65 168.87,362.65 169.11,362.65 169.36,362.65 169.61,362.65 169.86,362.65 170.11,362.65 170.36,362.65 170.60,362.65 170.85,362.65 171.10,362.65 171.35,362.65 171.60,362.65 171.85,362.65 172.09,362.65 172.34,362.65 172.59,362.65 172.84,362.65 173.09,362.65 173.34,362.65 173.58,362.65 173.83,362.65 174.08,362.65 174.33,362.65 174.58,362.65 174.83,362.65 175.07,362.65 175.32,362.65 175.57,362.65 175.82,362.65 176.07,362.65 176.32,362.65 176.56,362.65 176.81,362.65 177.06,362.65 177.31,362.65 177.56,362.65 177.81,362.65 178.05,362.65 178.30,362.65 178.55,362.65 178.80,362.65 179.05,362.65 179.30,362.65 179.54,362.65 179.79,362.65 180.04,362.65 180.29,362.65 180.54,362.65 180.79,362.65 181.03,362.65 181.28,362.65 181.53,362.65 181.78,362.65 182.03,362.65 182.28,362.65 182.52,362.65 182.77,362.65 183.02,362.65 183.27,362.65 183.52,362.65 183.77,362.65 184.01,362.65 184.26,362.65 184.51,362.65 184.76,362.65 185.01,362.65 185.26,362.65 185.50,362.65 185.75,362.65 186.00,362.65 186.25,362.65 186.50,362.65 186.75,362.65 186.99,362.65 187.24,362.65 187.49,362.65 187.74,362.65 187.99,362.65 188.24,362.65 188.48,362.65 188.61,362.65 188.73,362.67 188.98,362.78 189.23,362.96 189.39,363.10 189.48,363.21 189.73,363.81 189.97,364.44 190.17,364.66 190.22,364.65 190.47,364.26 190.72,363.61 190.95,363.10 190.97,363.08 191.22,362.66 191.46,362.43 191.47,362.43 191.71,362.50 191.96,362.70 192.21,362.96 192.46,363.26 192.51,363.32 192.71,363.61 192.95,364.15 193.20,364.76 193.45,365.37 193.70,365.88 193.95,366.18 194.07,366.22 194.20,366.16 194.44,365.72 194.69,364.97 194.94,364.04 195.19,363.07 195.44,362.19 195.51,361.99 195.69,361.48 195.93,360.81 196.18,360.17 196.43,359.54 196.68,358.90 196.93,358.23 197.18,357.52 197.42,356.75 197.67,355.90 197.72,355.75 197.92,354.95 198.17,353.87 198.42,352.68 198.67,351.40 198.91,350.05 199.16,348.64 199.41,347.20 199.66,345.74 199.91,344.28 200.16,342.84 200.32,341.93 200.40,341.44 200.65,340.07 200.90,338.70 201.15,337.34 201.40,335.97 201.65,334.59 201.89,333.19 202.14,331.77 202.39,330.30 202.64,328.80 202.89,327.24 203.14,325.63 203.38,323.95 203.63,322.20 203.65,322.09 203.88,320.21 204.13,317.88 204.38,315.36 204.63,312.80 204.87,310.35 205.12,308.17 205.37,306.40 205.52,305.60 205.62,305.17 205.87,304.28 206.12,303.53 206.17,303.37 206.36,302.84 206.61,302.24 206.86,301.62 206.95,301.37 207.11,300.91 207.36,300.16 207.61,299.38 207.85,298.57 208.10,297.72 208.35,296.82 208.60,295.88 208.71,295.46 208.85,294.89 209.10,293.83 209.34,292.71 209.59,291.53 209.84,290.30 210.09,289.04 210.34,287.74 210.59,286.43 210.83,285.10 211.08,283.77 211.33,282.45 211.58,281.15 211.63,280.87 211.83,279.84 212.08,278.50 212.32,277.12 212.57,275.74 212.82,274.36 213.07,272.99 213.32,271.65 213.57,270.35 213.78,269.28 213.81,269.10 214.06,267.90 214.31,266.72 214.56,265.57 214.81,264.44 215.06,263.33 215.30,262.24 215.55,261.16 215.80,260.10 216.05,259.05 216.06,259.03 216.30,258.01 216.55,256.98 216.79,255.96 217.04,254.95 217.29,253.96 217.54,252.98 217.79,252.02 218.04,251.09 218.28,250.17 218.53,249.31 218.53,249.29 218.78,248.41 219.03,247.53 219.28,246.66 219.53,245.81 219.77,244.97 220.02,244.17 220.27,243.41 220.52,242.70 220.77,242.04 220.93,241.64 221.02,241.45 221.26,240.88 221.51,240.34 221.76,239.82 222.01,239.32 222.26,238.84 222.51,238.39 222.75,237.95 223.00,237.54 223.25,237.15 223.50,236.79 223.75,236.44 223.86,236.29 224.00,236.12 224.24,235.81 224.49,235.51 224.74,235.22 224.99,234.95 225.24,234.69 225.49,234.44 225.73,234.21 225.98,233.98 226.23,233.77 226.48,233.58 226.72,233.40 226.73,233.39 226.98,233.21 227.22,233.01 227.47,232.82 227.72,232.65 227.97,232.50 228.22,232.38 228.47,232.30 228.67,232.28 228.71,232.28 228.96,232.32 229.21,232.39 229.46,232.50 229.71,232.63 229.96,232.79 230.20,232.96 230.45,233.14 230.70,233.32 230.95,233.50 231.20,233.66 231.45,233.80 231.53,233.84 231.69,233.92 231.94,234.04 232.19,234.15 232.44,234.26 232.69,234.37 232.94,234.48 233.18,234.58 233.43,234.68 233.68,234.79 233.93,234.89 234.18,234.99 234.43,235.09 234.67,235.19 234.92,235.30 235.17,235.40 235.42,235.51 235.67,235.61 235.69,235.63 235.92,235.72 236.16,235.84 236.41,235.96 236.66,236.08 236.91,236.20 237.16,236.32 237.41,236.44 237.65,236.56 237.90,236.68 238.15,236.79 238.40,236.89 238.65,236.99 238.90,237.08 239.14,237.17 239.21,237.19 239.39,237.24 239.64,237.32 239.89,237.39 240.14,237.46 240.39,237.52 240.63,237.59 240.88,237.65 241.13,237.71 241.38,237.78 241.63,237.83 241.88,237.89 242.12,237.95 242.37,238.00 242.62,238.06 242.87,238.11 243.12,238.16 243.37,238.21 243.61,238.26 243.86,238.31 244.11,238.36 244.36,238.41 244.61,238.45 244.86,238.50 245.10,238.55 245.35,238.59 245.60,238.64 245.85,238.68 246.10,238.73 246.35,238.77 246.59,238.82 246.84,238.87 247.09,238.91 247.34,238.96 247.40,238.97 247.59,239.00 247.84,239.05 248.08,239.10 248.33,239.14 248.58,239.19 248.83,239.23 249.08,239.28 249.33,239.32 249.57,239.37 249.82,239.41 250.07,239.46 250.32,239.50 250.57,239.55 250.82,239.59 251.06,239.63 251.31,239.68 251.56,239.72 251.81,239.76 252.06,239.80 252.31,239.84 252.55,239.88 252.80,239.92 253.05,239.96 253.30,240.00 253.55,240.03 253.80,240.07 254.04,240.10 254.29,240.14 254.54,240.17 254.79,240.21 255.04,240.24 255.29,240.27 255.53,240.30 255.59,240.31 255.78,240.33 256.03,240.36 256.28,240.39 256.53,240.42 256.78,240.44 257.02,240.47 257.27,240.50 257.52,240.53 257.77,240.56 258.02,240.59 258.27,240.61 258.51,240.64 258.76,240.67 259.01,240.69 259.26,240.72 259.51,240.75 259.76,240.77 260.00,240.80 260.25,240.82 260.50,240.85 260.75,240.88 261.00,240.90 261.25,240.92 261.49,240.95 261.74,240.97 261.99,240.99 262.24,241.02 262.49,241.04 262.74,241.06 262.98,241.08 263.23,241.11 263.48,241.13 263.73,241.15 263.98,241.17 264.23,241.19 264.47,241.21 264.72,241.22 264.97,241.24 265.22,241.26 265.47,241.28 265.72,241.29 265.96,241.31 266.21,241.33 266.46,241.34 266.71,241.36 266.96,241.37 267.21,241.38 267.45,241.40 267.70,241.41 267.95,241.42 268.60,241.42 268.60,341.93" fill="#ff0000"/>
<polyline clip-path="url(#c5)" points="163.90,362.65 164.15,362.65 164.40,362.65 164.64,362.65 164.89,362.65 165.14,362.65 165.39,362.65 165.64,362.65 165.89,362.65 166.13,362.65 166.38,362.65 166.63,362.65 166.88,362.65 167.13,362.65 167.38,362.65 167.62,362.65 167.87,362.65 168.12,362.65 168.37,362.65 168.62,362.65 168.87,362.65 169.11,362.65 169.36,362.65 169.61,362.65 169.86,362.65 170.11,362.65 170.36,362.65 170.60,362.65 170.85,362.65 171.10,362.65 171.35,362.65 171.60,362.65 171.85,362.65 172.09,362.65 172.34,362.65 172.59,362.65 172.84,362.65 173.09,362.65 173.34,362.65 173.58,362.65 173.83,362.65 174.08,362.65 174.33,362.65 174.58,362.65 174.83,362.65 175.07,362.65 175.32,362.65 175.57,362.65 175.82,362.65 176.07,362.65 176.32,362.65 176.56,362.65 176.81,362.65 177.06,362.65 177.31,362.65 177.56,362.65 177.81,362.65 178.05,362.65 178.30,362.65 178.55,362.65 178.80,362.65 179.05,362.65 179.30,362.65 179.54,362.65 179.79,362.65 180.04,362.65 180.29,362.65 180.54,362.65 180.79,362.65 181.03,362.65 181.28,362.65 181.53,362.65 181.78,362.65 182.03,362.65 182.28,362.65 182.52,362.65 182.77,362.65 183.02,362.65 183.27,362.65 183.52,362.65 183.77,362.65 184.01,362.65 184.26,362.65 184.51,362.65 184.76,362.65 185.01,362.65 185.26,362.65 185.50,362.65 185.75,362.65 186.00,362.65 186.25,362.65 186.50,362.65 186.75,362.65 186.99,362.65 187.24,362.65 187.49,362.65 187.74,362.65 187.99,362.65 188.24,362.65 188.48,362.65 188.61,362.65 188.73,362.67 188.98,362.78 189.23,362.96 189.39,363.10 189.48,363.21 189.73,363.81 189.97,364.44 190.17,364.66 190.22,364.65 190.47,364.26 190.72,363.61 190.95,363.10 190.97,363.08 191.22,362.66 191.46,362.43 191.47,362.43 191.71,362.50 191.96,362.70 192.21,362.96 192.46,363.26 192.51,363.32 192.71,363.61 192.95,364.15 193.20,364.76 193.45,365.37 193.70,365.88 193.95,366.18 194.07,366.22 194.20,366.16 194.44,365.72 194.69,364.97 194.94,364.04 195.19,363.07 195.44,362.19 195.51,361.99 195.69,361.48 195.93,360.81 196.18,360.17 196.43,359.54 196.68,358.90 196.93,358.23 197.18,357.52 197.42,356.75 197.67,355.90 197.72,355.75 197.92,354.95 198.17,353.87 198.42,352.68 198.67,351.40 198.91,350.05 199.16,348.64 199.41,347.20 199.66,345.74 199.91,344.28 200.16,342.84 200.32,341.93 200.40,341.44 200.65,340.07 200.90,338.70 201.15,337.34 201.40,335.97 201.65,334.59 201.89,333.19 202.14,331.77 202.39,330.30 202.64,328.80 202.89,327.24 203.14,325.63 203.38,323.95 203.63,322.20 203.65,322.09 203.88,320.21 204.13,317.88 204.38,315.36 204.63,312.80 204.87,310.35 205.12,308.17 205.37,306.40 205.52,305.60 205.62,305.17 205.87,304.28 206.12,303.53 206.17,303.37 206.36,302.84 206.61,302.24 206.86,301.62 206.95,301.37 207.11,300.91 207.36,300.16 207.61,299.38 207.85,298.57 208.10,297.72 208.35,296.82 208.60,295.88 208.71,295.46 208.85,294.89 209.10,293.83 209.34,292.71 209.59,291.53 209.84,290.30 210.09,289.04 210.34,287.74 210.59,286.43 210.83,285.10 211.08,283.77 211.33,282.45 211.58,281.15 211.63,280.87 211.83,279.84 212.08,278.50 212.32,277.12 212.57,275.74 212.82,274.36 213.07,272.99 213.32,271.65 213.57,270.35 213.78,269.28 213.81,269.10 214.06,267.90 214.31,266.72 214.56,265.57 214.81,264.44 215.06,263.33 215.30,262.24 215.55,261.16 215.80,260.10 216.05,259.05 216.06,259.03 216.30,258.01 216.55,256.98 216.79,255.96 217.04,254.95 217.29,253.96 217.54,252.98 217.79,252.02 218.04,251.09 218.28,250.17 218.53,249.31 218.53,249.29 218.78,248.41 219.03,247.53 219.28,246.66 219.53,245.81 219.77,244.97 220.02,244.17 220.27,243.41 220.52,242.70 220.77,242.04 220.93,241.64 221.02,241.45 221.26,240.88 221.51,240.34 221.76,239.82 222.01,239.32 222.26,238.84 222.51,238.39 222.75,237.95 223.00,237.54 223.25,237.15 223.50,236.79 223.75,236.44 223.86,236.29 224.00,236.12 224.24,235.81 224.49,235.51 224.74,235.22 224.99,234.95 225.24,234.69 225.49,234.44 225.73,234.21 225.98,233.98 226.23,233.77 226.48,233.58 226.72,233.40 226.73,233.39 226.98,233.21 227.22,233.01 227.47,232.82 227.72,232.65 227.97,232.50 228.22,232.38 228.47,232.30 228.67,232.28 228.71,232.28 228.96,232.32 229.21,232.39 229.46,232.50 229.71,232.63 229.96,232.79 230.20,232.96 230.45,233.14 230.70,233.32 230.95,233.50 231.20,233.66 231.45,233.80 231.53,233.84 231.69,233.92 231.94,234.04 232.19,234.15 232.44,234.26 232.69,234.37 232.94,234.48 233.18,234.58 233.43,234.68 233.68,234.79 233.93,234.89 234.18,234.99 234.43,235.09 234.67,235.19 234.92,235.30 235.17,235.40 235.42,235.51 235.67,235.61 235.69,235.63 235.92,235.72 236.16,235.84 236.41,235.96 236.66,236.08 236.91,236.20 237.16,236.32 237.41,236.44 237.65,236.56 237.90,236.68 238.15,236.79 238.40,236.89 238.65,236.99 238.90,237.08 239.14,237.17 239.21,237.19 239.39,237.24 239.64,237.32 239.89,237.39 240.14,237.46 240.39,237.52 240.63,237.59 240.88,237.65 241.13,237.71 241.38,237.78 241.63,237.83 241.88,237.89 242.12,237.95 242.37,238.00 242.62,238.06 242.87,238.11 243.12,238.16 243.37,238.21 243.61,238.26 243.86,238.31 244.11,238.36 244.36,238.41 244.61,238.45 244.86,238.50 245.10,238.55 245.35,238.59 245.60,238.64 245.85,238.68 246.10,238.73 246.35,238.77 246.59,238.82 246.84,238.87 247.09,238.91 247.34,238.96 247.40,238.97 247.59,239.00 247.84,239.05 248.08,239.10 248.33,239.14 248.58,239.19 248.83,239.23 249.08,239.28 249.33,239.32 249.57,239.37 249.82,239.41 250.07,239.46 250.32,239.50 250.57,239.55 250.82,239.59 251.06,239.63 251.31,239.68 251.56,239.72 251.81,239.76 252.06,239.80 252.31,239.84 252.55,239.88 252.80,239.92 253.05,239.96 253.30,240.00 253.55,240.03 253.80,240.07 254.04,240.10 254.29,240.14 254.54,240.17 254.79,240.21 255.04,240.24 255.29,240.27 255.53,240.30 255.59,240.31 255.78,240.33 256.03,240.36 256.28,240.39 256.53,240.42 256.78,240.44 257.02,240.47 257.27,240.50 257.52,240.53 257.77,240.56 258.02,240.59 258.27,240.61 258.51,240.64 258.76,240.67 259.01,240.69 259.26,240.72 259.51,240.75 259.76,240.77 260.00,240.80 260.25,240.82 260.50,240.85 260.75,240.88 261.00,240.90 261.25,240.92 261.49,240.95 261.74,240.97 261.99,240.99 262.24,241.02 262.49,241.04 262.74,241.06 262.98,241.08 263.23,241.11 263.48,241.13 263.73,241.15 263.98,241.17 264.23,241.19 264.47,241.21 264.72,241.22 264.97,241.24 265.22,241.26 265.47,241.28 265.72,241.29 265.96,241.31 266.21,241.33 266.46,241.34 266.71,241.36 266.96,241.37 267.21,241.38 267.45,241.40 267.70,241.41 267.95,241.42" fill="none" stroke="#000" stroke-width="0.5" stroke-linejoin="round"/>
<text class="t" x="163.90" y="397.30" transform="rotate(.03 163.90 397.30)" text-anchor="middle">0</text>
<text class="t" x="189.91" y="397.30" transform="rotate(.03 189.91 397.30)" text-anchor="middle">2</text>
<text class="t" x="215.93" y="397.30" transform="rotate(.03 215.93 397.30)" text-anchor="middle">4</text>
<text class="t" x="241.94" y="397.30" transform="rotate(.03 241.94 397.30)" text-anchor="middle">6</text>
<text class="t" x="267.95" y="397.30" transform="rotate(.03 267.95 397.30)" text-anchor="middle">8</text>
<text class="t" x="160.60" y="390.48" transform="rotate(.03 160.60 390.48)" text-anchor="end">-2</text>
<text class="t" x="160.60" y="368.06" transform="rotate(.03 160.60 368.06)" text-anchor="end">-1</text>
<text class="t" x="160.60" y="345.64" transform="rotate(.03 160.60 345.64)" text-anchor="end">0</text>
<text class="t" x="160.60" y="323.21" transform="rotate(.03 160.60 323.21)" text-anchor="end">1</text>
<text class="t" x="160.60" y="300.79" transform="rotate(.03 160.60 300.79)" text-anchor="end">2</text>
<text class="t" x="160.60" y="278.36" transform="rotate(.03 160.60 278.36)" text-anchor="end">3</text>
<text class="t" x="160.60" y="255.94" transform="rotate(.03 160.60 255.94)" text-anchor="end">4</text>
<text class="t" x="160.60" y="233.52" transform="rotate(.03 160.60 233.52)" text-anchor="end">5</text>
<text class="l" x="215.93" y="407.40" transform="rotate(.03 215.93 407.40)" text-anchor="middle">Time (s)</text>
<text class="l" transform="translate(151.90 308.50) rotate(-89.97)" text-anchor="middle">Boost Pressure % Difference</text>
<text class="h" x="215.93" y="227.40" transform="rotate(.03 215.93 227.40)" text-anchor="middle">(F)</text>
</g>
<g>
<rect x="301.60" y="230.50" width="104.05" height="156.00" fill="#ffffff"/>
<path d="M308.10 230.50V386.50M314.61 230.50V386.50M321.11 230.50V386.50M334.12 230.50V386.50M340.62 230.50V386.50M347.12 230.50V386.50M360.13 230.50V386.50M366.63 230.50V386.50M373.13 230.50V386.50M386.14 230.50V386.50M392.64 230.50V386.50M399.15 230.50V386.50M301.60 381.30H405.65M301.60 376.10H405.65M301.60 370.90H405.65M301.60 365.70H405.65M301.60 355.30H405.65M301.60 350.10H405.65M301.60 344.90H405.65M301.60 339.70H405.65M301.60 329.30H405.65M301.60 324.10H405.65M301.60 318.90H405.65M301.60 313.70H405.65M301.60 303.30H405.65M301.60 298.10H405.65M301.60 292.90H405.65M301.60 287.70H405.65M301.60 277.30H405.65M301.60 272.10H405.65M301.60 266.90H405.65M301.60 261.70H405.65M301.60 251.30H405.65M301.60 246.10H405.65M301.60 240.90H405.65M301.60 235.70H405.65" stroke="#f5f5f5" stroke-width="0.7" fill="none"/>
<path d="M327.61 230.50V386.50M353.62 230.50V386.50M379.64 230.50V386.50M301.60 360.50H405.65M301.60 334.50H405.65M301.60 308.50H405.65M301.60 282.50H405.65M301.60 256.50H405.65" stroke="#e7e7e7" stroke-width="0.8" fill="none"/>
<path d="M301.60 230.10V386.90M405.65 230.10V386.90M327.61 386.50v-1.20M327.61 230.50v1.20M353.62 386.50v-1.20M353.62 230.50v1.20M379.64 386.50v-1.20M379.64 230.50v1.20" stroke="#8e8e8e" stroke-width="1.25" fill="none"/>
<path d="M301.10 230.50H406.15M301.10 386.50H406.15M301.60 360.50h1.20M405.65 360.50h-1.20M301.60 334.50h1.20M405.65 334.50h-1.20M301.60 308.50h1.20M405.65 308.50h-1.20M301.60 282.50h1.20M405.65 282.50h-1.20M301.60 256.50h1.20M405.65 256.50h-1.20" stroke="#5e5e5e" stroke-width="0.9" fill="none"/>
<clipPath id="c6"><rect x="300.95" y="230.50" width="105.35" height="156.00"/></clipPath>
<path d="M301.60 256.50H405.65" stroke="#000" stroke-width="0.55" fill="none"/>
<polygon clip-path="url(#c6)" points="300.95,256.50 300.95,382.34 301.60,382.34 301.85,382.34 302.10,382.34 302.34,382.34 302.59,382.34 302.84,382.34 303.09,382.34 303.34,382.34 303.59,382.34 303.83,382.34 304.08,382.34 304.33,382.34 304.58,382.34 304.83,382.34 305.08,382.34 305.32,382.34 305.57,382.34 305.82,382.34 306.07,382.34 306.32,382.34 306.57,382.34 306.81,382.34 307.06,382.34 307.31,382.34 307.56,382.34 307.81,382.34 308.06,382.34 308.30,382.34 308.55,382.34 308.80,382.34 309.05,382.34 309.30,382.34 309.55,382.34 309.79,382.34 310.04,382.34 310.29,382.34 310.54,382.34 310.79,382.34 311.04,382.34 311.28,382.34 311.53,382.34 311.78,382.34 312.03,382.34 312.28,382.34 312.53,382.34 312.77,382.34 313.02,382.34 313.27,382.34 313.52,382.34 313.77,382.34 314.02,382.34 314.26,382.34 314.51,382.34 314.76,382.34 315.01,382.34 315.26,382.34 315.51,382.34 315.75,382.34 316.00,382.34 316.25,382.34 316.50,382.34 316.75,382.34 317.00,382.34 317.24,382.34 317.49,382.34 317.74,382.34 317.99,382.34 318.24,382.34 318.49,382.34 318.73,382.34 318.98,382.34 319.23,382.34 319.48,382.34 319.73,382.34 319.98,382.34 320.22,382.34 320.47,382.34 320.72,382.34 320.97,382.34 321.22,382.34 321.47,382.34 321.71,382.34 321.96,382.34 322.21,382.34 322.46,382.34 322.71,382.34 322.96,382.34 323.20,382.34 323.45,382.34 323.70,382.34 323.95,382.34 324.20,382.34 324.45,382.34 324.69,382.34 324.75,382.34 324.94,382.17 325.19,381.54 325.40,380.78 325.44,380.62 325.69,378.93 325.94,375.82 326.18,370.90 326.18,370.83 326.43,348.55 326.57,334.50 326.68,326.55 326.93,310.62 327.09,303.30 327.18,300.48 327.43,293.71 327.67,288.53 327.87,285.10 327.92,284.29 328.17,280.69 328.42,277.66 328.65,275.22 328.67,275.07 328.92,272.88 329.16,270.96 329.41,269.13 329.43,268.98 329.66,267.25 329.91,265.39 330.16,263.68 330.34,262.58 330.41,262.25 330.65,261.04 330.90,259.97 331.15,258.97 331.40,258.01 331.65,257.03 331.77,256.50 331.90,255.98 332.14,254.90 332.39,253.81 332.64,252.73 332.89,251.66 333.14,250.62 333.39,249.63 333.47,249.32 333.63,248.67 333.88,247.71 334.13,246.76 334.38,245.85 334.63,245.00 334.88,244.23 335.12,243.57 335.16,243.50 335.37,243.01 335.62,242.49 335.87,242.01 336.12,241.56 336.37,241.13 336.61,240.74 336.86,240.36 337.11,240.01 337.36,239.68 337.61,239.36 337.63,239.34 337.86,239.06 338.10,238.75 338.35,238.46 338.60,238.18 338.85,237.91 339.10,237.66 339.35,237.43 339.59,237.22 339.84,237.05 340.09,236.90 340.10,236.90 340.34,236.77 340.59,236.64 340.84,236.52 341.08,236.41 341.33,236.30 341.58,236.21 341.83,236.14 342.08,236.09 342.33,236.07 342.44,236.06 342.57,236.07 342.82,236.10 343.07,236.16 343.32,236.23 343.57,236.30 343.82,236.35 344.06,236.37 344.13,236.38 344.31,236.36 344.56,236.30 344.81,236.20 345.06,236.07 345.31,235.92 345.55,235.76 345.80,235.60 346.05,235.46 346.30,235.34 346.55,235.25 346.60,235.23 346.80,235.18 347.04,235.13 347.29,235.07 347.54,235.01 347.79,234.96 348.04,234.91 348.29,234.86 348.53,234.82 348.78,234.79 349.03,234.76 349.28,234.73 349.53,234.72 349.78,234.71 349.85,234.71 350.02,234.71 350.27,234.72 350.52,234.74 350.77,234.77 351.02,234.80 351.27,234.83 351.51,234.88 351.76,234.92 352.01,234.98 352.26,235.03 352.51,235.09 352.76,235.15 353.00,235.21 353.10,235.23 353.25,235.27 353.50,235.35 353.75,235.45 354.00,235.56 354.25,235.68 354.49,235.82 354.74,235.97 354.99,236.13 355.24,236.29 355.49,236.47 355.74,236.65 355.98,236.83 356.23,237.02 356.48,237.22 356.73,237.41 356.98,237.60 357.14,237.73 357.23,237.80 357.47,238.01 357.72,238.25 357.97,238.50 358.22,238.77 358.47,239.04 358.72,239.32 358.96,239.60 359.21,239.88 359.46,240.15 359.71,240.42 359.96,240.67 360.21,240.90 360.39,241.06 360.45,241.11 360.70,241.31 360.95,241.51 361.20,241.70 361.45,241.88 361.70,242.06 361.94,242.23 362.19,242.40 362.44,242.57 362.69,242.72 362.94,242.88 363.19,243.02 363.38,243.14 363.43,243.17 363.68,243.31 363.93,243.46 364.18,243.60 364.43,243.75 364.68,243.89 364.92,244.03 365.17,244.16 365.42,244.28 365.67,244.39 365.92,244.49 366.17,244.58 366.41,244.65 366.63,244.70 366.66,244.70 366.91,244.75 367.16,244.79 367.41,244.83 367.66,244.88 367.90,244.92 368.15,244.95 368.40,244.99 368.65,245.02 368.90,245.05 369.15,245.08 369.39,245.10 369.64,245.12 369.89,245.14 370.14,245.15 370.39,245.16 370.64,245.16 370.79,245.16 370.88,245.16 371.13,245.16 371.38,245.16 371.63,245.16 371.88,245.16 372.13,245.16 372.37,245.15 372.62,245.15 372.87,245.14 373.12,245.14 373.37,245.14 373.62,245.13 373.86,245.12 374.11,245.12 374.36,245.11 374.61,245.11 374.86,245.10 375.11,245.10 375.35,245.09 375.60,245.08 375.85,245.08 376.10,245.07 376.35,245.06 376.60,245.06 376.84,245.05 377.09,245.05 377.34,245.04 377.59,245.04 377.84,245.03 378.09,245.03 378.33,245.02 378.58,245.02 378.83,245.02 379.08,245.01 379.33,245.01 379.58,245.01 379.82,245.01 380.07,245.01 380.16,245.01 380.32,245.01 380.57,245.01 380.82,245.01 381.07,245.01 381.31,245.01 381.56,245.01 381.81,245.01 382.06,245.01 382.31,245.01 382.56,245.01 382.80,245.01 383.05,245.01 383.30,245.01 383.55,245.01 383.80,245.01 384.05,245.01 384.29,245.01 384.54,245.01 384.79,245.01 385.04,245.01 385.29,245.01 385.54,245.01 385.78,245.01 386.03,245.01 386.28,245.01 386.53,245.01 386.78,245.01 387.03,245.01 387.27,245.01 387.52,245.01 387.77,245.01 388.02,245.01 388.27,245.01 388.52,245.01 388.76,245.01 389.01,245.01 389.26,245.01 389.51,245.01 389.76,245.01 390.01,245.01 390.25,245.01 390.50,245.01 390.75,245.01 391.00,245.01 391.25,245.01 391.50,245.01 391.60,245.01 391.74,245.01 391.99,245.01 392.24,245.01 392.49,245.01 392.74,245.01 392.99,245.01 393.23,245.01 393.48,245.01 393.73,245.01 393.98,245.01 394.23,245.02 394.48,245.02 394.72,245.02 394.97,245.02 395.22,245.02 395.47,245.02 395.72,245.03 395.97,245.03 396.21,245.03 396.46,245.03 396.71,245.03 396.96,245.04 397.21,245.04 397.46,245.04 397.70,245.04 397.95,245.05 398.20,245.05 398.45,245.05 398.70,245.06 398.95,245.06 399.19,245.06 399.44,245.07 399.69,245.07 399.94,245.07 400.19,245.08 400.44,245.08 400.68,245.08 400.93,245.09 401.18,245.09 401.43,245.09 401.68,245.10 401.93,245.10 402.17,245.11 402.42,245.11 402.67,245.11 402.92,245.12 403.17,245.12 403.42,245.13 403.66,245.13 403.91,245.13 404.16,245.14 404.41,245.14 404.66,245.15 404.91,245.15 405.15,245.16 405.40,245.16 405.65,245.16 406.30,245.16 406.30,256.50" fill="#ff0000"/>
<polyline clip-path="url(#c6)" points="301.60,382.34 301.85,382.34 302.10,382.34 302.34,382.34 302.59,382.34 302.84,382.34 303.09,382.34 303.34,382.34 303.59,382.34 303.83,382.34 304.08,382.34 304.33,382.34 304.58,382.34 304.83,382.34 305.08,382.34 305.32,382.34 305.57,382.34 305.82,382.34 306.07,382.34 306.32,382.34 306.57,382.34 306.81,382.34 307.06,382.34 307.31,382.34 307.56,382.34 307.81,382.34 308.06,382.34 308.30,382.34 308.55,382.34 308.80,382.34 309.05,382.34 309.30,382.34 309.55,382.34 309.79,382.34 310.04,382.34 310.29,382.34 310.54,382.34 310.79,382.34 311.04,382.34 311.28,382.34 311.53,382.34 311.78,382.34 312.03,382.34 312.28,382.34 312.53,382.34 312.77,382.34 313.02,382.34 313.27,382.34 313.52,382.34 313.77,382.34 314.02,382.34 314.26,382.34 314.51,382.34 314.76,382.34 315.01,382.34 315.26,382.34 315.51,382.34 315.75,382.34 316.00,382.34 316.25,382.34 316.50,382.34 316.75,382.34 317.00,382.34 317.24,382.34 317.49,382.34 317.74,382.34 317.99,382.34 318.24,382.34 318.49,382.34 318.73,382.34 318.98,382.34 319.23,382.34 319.48,382.34 319.73,382.34 319.98,382.34 320.22,382.34 320.47,382.34 320.72,382.34 320.97,382.34 321.22,382.34 321.47,382.34 321.71,382.34 321.96,382.34 322.21,382.34 322.46,382.34 322.71,382.34 322.96,382.34 323.20,382.34 323.45,382.34 323.70,382.34 323.95,382.34 324.20,382.34 324.45,382.34 324.69,382.34 324.75,382.34 324.94,382.17 325.19,381.54 325.40,380.78 325.44,380.62 325.69,378.93 325.94,375.82 326.18,370.90 326.18,370.83 326.43,348.55 326.57,334.50 326.68,326.55 326.93,310.62 327.09,303.30 327.18,300.48 327.43,293.71 327.67,288.53 327.87,285.10 327.92,284.29 328.17,280.69 328.42,277.66 328.65,275.22 328.67,275.07 328.92,272.88 329.16,270.96 329.41,269.13 329.43,268.98 329.66,267.25 329.91,265.39 330.16,263.68 330.34,262.58 330.41,262.25 330.65,261.04 330.90,259.97 331.15,258.97 331.40,258.01 331.65,257.03 331.77,256.50 331.90,255.98 332.14,254.90 332.39,253.81 332.64,252.73 332.89,251.66 333.14,250.62 333.39,249.63 333.47,249.32 333.63,248.67 333.88,247.71 334.13,246.76 334.38,245.85 334.63,245.00 334.88,244.23 335.12,243.57 335.16,243.50 335.37,243.01 335.62,242.49 335.87,242.01 336.12,241.56 336.37,241.13 336.61,240.74 336.86,240.36 337.11,240.01 337.36,239.68 337.61,239.36 337.63,239.34 337.86,239.06 338.10,238.75 338.35,238.46 338.60,238.18 338.85,237.91 339.10,237.66 339.35,237.43 339.59,237.22 339.84,237.05 340.09,236.90 340.10,236.90 340.34,236.77 340.59,236.64 340.84,236.52 341.08,236.41 341.33,236.30 341.58,236.21 341.83,236.14 342.08,236.09 342.33,236.07 342.44,236.06 342.57,236.07 342.82,236.10 343.07,236.16 343.32,236.23 343.57,236.30 343.82,236.35 344.06,236.37 344.13,236.38 344.31,236.36 344.56,236.30 344.81,236.20 345.06,236.07 345.31,235.92 345.55,235.76 345.80,235.60 346.05,235.46 346.30,235.34 346.55,235.25 346.60,235.23 346.80,235.18 347.04,235.13 347.29,235.07 347.54,235.01 347.79,234.96 348.04,234.91 348.29,234.86 348.53,234.82 348.78,234.79 349.03,234.76 349.28,234.73 349.53,234.72 349.78,234.71 349.85,234.71 350.02,234.71 350.27,234.72 350.52,234.74 350.77,234.77 351.02,234.80 351.27,234.83 351.51,234.88 351.76,234.92 352.01,234.98 352.26,235.03 352.51,235.09 352.76,235.15 353.00,235.21 353.10,235.23 353.25,235.27 353.50,235.35 353.75,235.45 354.00,235.56 354.25,235.68 354.49,235.82 354.74,235.97 354.99,236.13 355.24,236.29 355.49,236.47 355.74,236.65 355.98,236.83 356.23,237.02 356.48,237.22 356.73,237.41 356.98,237.60 357.14,237.73 357.23,237.80 357.47,238.01 357.72,238.25 357.97,238.50 358.22,238.77 358.47,239.04 358.72,239.32 358.96,239.60 359.21,239.88 359.46,240.15 359.71,240.42 359.96,240.67 360.21,240.90 360.39,241.06 360.45,241.11 360.70,241.31 360.95,241.51 361.20,241.70 361.45,241.88 361.70,242.06 361.94,242.23 362.19,242.40 362.44,242.57 362.69,242.72 362.94,242.88 363.19,243.02 363.38,243.14 363.43,243.17 363.68,243.31 363.93,243.46 364.18,243.60 364.43,243.75 364.68,243.89 364.92,244.03 365.17,244.16 365.42,244.28 365.67,244.39 365.92,244.49 366.17,244.58 366.41,244.65 366.63,244.70 366.66,244.70 366.91,244.75 367.16,244.79 367.41,244.83 367.66,244.88 367.90,244.92 368.15,244.95 368.40,244.99 368.65,245.02 368.90,245.05 369.15,245.08 369.39,245.10 369.64,245.12 369.89,245.14 370.14,245.15 370.39,245.16 370.64,245.16 370.79,245.16 370.88,245.16 371.13,245.16 371.38,245.16 371.63,245.16 371.88,245.16 372.13,245.16 372.37,245.15 372.62,245.15 372.87,245.14 373.12,245.14 373.37,245.14 373.62,245.13 373.86,245.12 374.11,245.12 374.36,245.11 374.61,245.11 374.86,245.10 375.11,245.10 375.35,245.09 375.60,245.08 375.85,245.08 376.10,245.07 376.35,245.06 376.60,245.06 376.84,245.05 377.09,245.05 377.34,245.04 377.59,245.04 377.84,245.03 378.09,245.03 378.33,245.02 378.58,245.02 378.83,245.02 379.08,245.01 379.33,245.01 379.58,245.01 379.82,245.01 380.07,245.01 380.16,245.01 380.32,245.01 380.57,245.01 380.82,245.01 381.07,245.01 381.31,245.01 381.56,245.01 381.81,245.01 382.06,245.01 382.31,245.01 382.56,245.01 382.80,245.01 383.05,245.01 383.30,245.01 383.55,245.01 383.80,245.01 384.05,245.01 384.29,245.01 384.54,245.01 384.79,245.01 385.04,245.01 385.29,245.01 385.54,245.01 385.78,245.01 386.03,245.01 386.28,245.01 386.53,245.01 386.78,245.01 387.03,245.01 387.27,245.01 387.52,245.01 387.77,245.01 388.02,245.01 388.27,245.01 388.52,245.01 388.76,245.01 389.01,245.01 389.26,245.01 389.51,245.01 389.76,245.01 390.01,245.01 390.25,245.01 390.50,245.01 390.75,245.01 391.00,245.01 391.25,245.01 391.50,245.01 391.60,245.01 391.74,245.01 391.99,245.01 392.24,245.01 392.49,245.01 392.74,245.01 392.99,245.01 393.23,245.01 393.48,245.01 393.73,245.01 393.98,245.01 394.23,245.02 394.48,245.02 394.72,245.02 394.97,245.02 395.22,245.02 395.47,245.02 395.72,245.03 395.97,245.03 396.21,245.03 396.46,245.03 396.71,245.03 396.96,245.04 397.21,245.04 397.46,245.04 397.70,245.04 397.95,245.05 398.20,245.05 398.45,245.05 398.70,245.06 398.95,245.06 399.19,245.06 399.44,245.07 399.69,245.07 399.94,245.07 400.19,245.08 400.44,245.08 400.68,245.08 400.93,245.09 401.18,245.09 401.43,245.09 401.68,245.10 401.93,245.10 402.17,245.11 402.42,245.11 402.67,245.11 402.92,245.12 403.17,245.12 403.42,245.13 403.66,245.13 403.91,245.13 404.16,245.14 404.41,245.14 404.66,245.15 404.91,245.15 405.15,245.16 405.40,245.16 405.65,245.16" fill="none" stroke="#000" stroke-width="0.5" stroke-linejoin="round"/>
<text class="t" x="301.60" y="397.30" transform="rotate(.03 301.60 397.30)" text-anchor="middle">0</text>
<text class="t" x="327.61" y="397.30" transform="rotate(.03 327.61 397.30)" text-anchor="middle">2</text>
<text class="t" x="353.62" y="397.30" transform="rotate(.03 353.62 397.30)" text-anchor="middle">4</text>
<text class="t" x="379.64" y="397.30" transform="rotate(.03 379.64 397.30)" text-anchor="middle">6</text>
<text class="t" x="405.65" y="397.30" transform="rotate(.03 405.65 397.30)" text-anchor="middle">8</text>
<text class="t" x="298.30" y="390.48" transform="rotate(.03 298.30 390.48)" text-anchor="end">-25</text>
<text class="t" x="298.30" y="364.32" transform="rotate(.03 298.30 364.32)" text-anchor="end">-20</text>
<text class="t" x="298.30" y="338.16" transform="rotate(.03 298.30 338.16)" text-anchor="end">-15</text>
<text class="t" x="298.30" y="312.00" transform="rotate(.03 298.30 312.00)" text-anchor="end">-10</text>
<text class="t" x="298.30" y="285.84" transform="rotate(.03 298.30 285.84)" text-anchor="end">-5</text>
<text class="t" x="298.30" y="259.68" transform="rotate(.03 298.30 259.68)" text-anchor="end">0</text>
<text class="t" x="298.30" y="233.52" transform="rotate(.03 298.30 233.52)" text-anchor="end">5</text>
<text class="l" x="353.62" y="407.40" transform="rotate(.03 353.62 407.40)" text-anchor="middle">Time (s)</text>
<text class="l" transform="translate(284.60 308.50) rotate(-89.97)" text-anchor="middle">Compressor Efficiency % Difference</text>
<text class="h" x="353.62" y="227.40" transform="rotate(.03 353.62 227.40)" text-anchor="middle">(G)</text>
</g>
<g>
<rect x="439.40" y="230.50" width="104.05" height="156.00" fill="#ffffff"/>
<path d="M445.90 230.50V386.50M452.41 230.50V386.50M458.91 230.50V386.50M471.92 230.50V386.50M478.42 230.50V386.50M484.92 230.50V386.50M497.93 230.50V386.50M504.43 230.50V386.50M510.93 230.50V386.50M523.94 230.50V386.50M530.44 230.50V386.50M536.95 230.50V386.50M439.40 383.03H543.45M439.40 379.57H543.45M439.40 376.10H543.45M439.40 372.63H543.45M439.40 365.70H543.45M439.40 362.23H543.45M439.40 358.77H543.45M439.40 355.30H543.45M439.40 348.37H543.45M439.40 344.90H543.45M439.40 341.43H543.45M439.40 337.97H543.45M439.40 331.03H543.45M439.40 327.57H543.45M439.40 324.10H543.45M439.40 320.63H543.45M439.40 313.70H543.45M439.40 310.23H543.45M439.40 306.77H543.45M439.40 303.30H543.45M439.40 296.37H543.45M439.40 292.90H543.45M439.40 289.43H543.45M439.40 285.97H543.45M439.40 279.03H543.45M439.40 275.57H543.45M439.40 272.10H543.45M439.40 268.63H543.45M439.40 261.70H543.45M439.40 258.23H543.45M439.40 254.77H543.45M439.40 251.30H543.45M439.40 244.37H543.45M439.40 240.90H543.45M439.40 237.43H543.45M439.40 233.97H543.45" stroke="#f5f5f5" stroke-width="0.7" fill="none"/>
<path d="M465.41 230.50V386.50M491.42 230.50V386.50M517.44 230.50V386.50M439.40 369.17H543.45M439.40 351.83H543.45M439.40 334.50H543.45M439.40 317.17H543.45M439.40 299.83H543.45M439.40 282.50H543.45M439.40 265.17H543.45M439.40 247.83H543.45" stroke="#e7e7e7" stroke-width="0.8" fill="none"/>
<path d="M439.40 230.10V386.90M543.45 230.10V386.90M465.41 386.50v-1.20M465.41 230.50v1.20M491.42 386.50v-1.20M491.42 230.50v1.20M517.44 386.50v-1.20M517.44 230.50v1.20" stroke="#8e8e8e" stroke-width="1.25" fill="none"/>
<path d="M438.90 230.50H543.95M438.90 386.50H543.95M439.40 369.17h1.20M543.45 369.17h-1.20M439.40 351.83h1.20M543.45 351.83h-1.20M439.40 334.50h1.20M543.45 334.50h-1.20M439.40 317.17h1.20M543.45 317.17h-1.20M439.40 299.83h1.20M543.45 299.83h-1.20M439.40 282.50h1.20M543.45 282.50h-1.20M439.40 265.17h1.20M543.45 265.17h-1.20M439.40 247.83h1.20M543.45 247.83h-1.20" stroke="#5e5e5e" stroke-width="0.9" fill="none"/>
<clipPath id="c7"><rect x="438.75" y="230.50" width="105.35" height="156.00"/></clipPath>
<path d="M439.40 317.17H543.45" stroke="#000" stroke-width="0.55" fill="none"/>
<path d="M463.33 317.62H543.45" stroke="#ff1a1a" stroke-width="1.70" fill="none"/>
<polygon clip-path="url(#c7)" points="438.75,317.17 438.75,234.31 439.40,234.31 439.65,234.31 439.90,234.31 440.14,234.31 440.39,234.31 440.64,234.31 440.89,234.31 441.14,234.31 441.39,234.31 441.63,234.31 441.88,234.31 442.13,234.31 442.38,234.31 442.63,234.31 442.88,234.31 443.12,234.31 443.37,234.31 443.62,234.31 443.87,234.31 444.12,234.31 444.37,234.31 444.61,234.31 444.86,234.31 445.11,234.31 445.36,234.31 445.61,234.31 445.86,234.31 446.10,234.31 446.35,234.31 446.60,234.31 446.85,234.31 447.10,234.31 447.35,234.31 447.59,234.31 447.84,234.31 448.09,234.31 448.34,234.31 448.59,234.31 448.84,234.31 449.08,234.31 449.33,234.31 449.58,234.31 449.83,234.31 450.08,234.31 450.33,234.31 450.57,234.31 450.82,234.31 451.07,234.31 451.32,234.31 451.57,234.31 451.82,234.31 452.06,234.31 452.31,234.31 452.56,234.31 452.81,234.31 453.06,234.31 453.31,234.31 453.55,234.31 453.80,234.31 454.05,234.31 454.30,234.31 454.55,234.31 454.80,234.31 455.04,234.31 455.29,234.31 455.54,234.31 455.79,234.31 456.04,234.31 456.29,234.31 456.53,234.31 456.78,234.31 457.03,234.31 457.28,234.31 457.53,234.31 457.78,234.31 458.02,234.31 458.27,234.31 458.52,234.31 458.77,234.31 459.02,234.31 459.27,234.31 459.51,234.31 459.76,234.31 460.01,234.31 460.26,234.31 460.51,234.31 460.76,234.31 461.00,234.31 461.25,234.31 461.50,234.31 461.75,234.31 462.00,234.31 462.25,234.31 462.49,234.31 462.74,234.31 462.94,234.31 462.99,237.55 463.24,300.78 463.33,317.17 463.49,330.37 463.74,348.32 463.98,362.04 464.23,370.91 464.48,374.35 464.50,374.37 464.73,367.20 464.98,352.60 465.15,346.29 465.23,345.29 465.47,342.64 465.72,340.77 465.97,339.29 466.19,337.97 466.22,337.80 466.47,336.29 466.72,334.91 466.96,333.65 467.21,332.51 467.23,332.42 467.46,331.47 467.71,330.53 467.96,329.65 468.21,328.83 468.27,328.61 468.45,328.02 468.70,327.20 468.95,326.38 469.20,325.59 469.45,324.84 469.70,324.15 469.94,323.53 470.19,323.00 470.35,322.71 470.44,322.58 470.69,322.21 470.94,321.88 471.19,321.58 471.43,321.31 471.68,321.06 471.93,320.84 472.18,320.63 472.18,320.63 472.43,320.44 472.68,320.27 472.92,320.11 473.17,319.96 473.42,319.82 473.67,319.69 473.87,319.59 473.92,319.57 474.17,319.47 474.41,319.38 474.66,319.30 474.91,319.22 475.16,319.12 475.41,319.00 475.56,318.90 475.66,318.81 475.90,318.48 476.15,318.02 476.40,317.53 476.60,317.17 476.65,317.08 476.90,316.63 477.15,316.17 477.39,315.70 477.64,315.24 477.89,314.80 478.03,314.57 478.14,314.38 478.39,313.98 478.64,313.58 478.88,313.19 479.13,312.80 479.38,312.43 479.63,312.08 479.88,311.74 480.13,311.41 480.24,311.27 480.37,311.11 480.62,310.79 480.87,310.48 481.12,310.17 481.37,309.89 481.62,309.63 481.86,309.40 482.11,309.23 482.32,309.12 482.36,309.11 482.61,309.01 482.86,308.93 483.11,308.87 483.35,308.85 483.36,308.85 483.60,308.86 483.85,308.91 484.10,308.98 484.35,309.08 484.60,309.20 484.84,309.33 485.09,309.48 485.34,309.64 485.59,309.80 485.84,309.97 486.09,310.14 486.22,310.23 486.33,310.31 486.58,310.50 486.83,310.70 487.08,310.93 487.33,311.17 487.58,311.44 487.82,311.72 488.07,312.02 488.32,312.34 488.43,312.49 488.57,312.68 488.82,313.07 489.07,313.52 489.31,314.00 489.56,314.52 489.81,315.05 490.06,315.60 490.31,316.15 490.56,316.70 490.77,317.17 490.80,317.23 491.05,317.79 491.30,318.40 491.55,319.03 491.80,319.65 492.05,320.25 492.29,320.78 492.54,321.23 492.73,321.50 492.79,321.58 493.04,321.90 493.29,322.21 493.54,322.51 493.78,322.79 494.03,323.05 494.28,323.27 494.53,323.46 494.78,323.61 495.03,323.71 495.27,323.75 495.33,323.75 495.52,323.74 495.77,323.68 496.02,323.59 496.27,323.46 496.52,323.30 496.76,323.12 497.01,322.93 497.26,322.72 497.51,322.50 497.67,322.37 497.76,322.28 498.01,322.00 498.25,321.65 498.50,321.24 498.75,320.81 499.00,320.36 499.25,319.91 499.50,319.48 499.74,319.09 499.88,318.90 499.99,318.75 500.24,318.44 500.49,318.14 500.74,317.85 500.99,317.56 501.23,317.26 501.31,317.17 501.48,316.94 501.73,316.58 501.98,316.20 502.23,315.82 502.48,315.46 502.72,315.14 502.97,314.87 503.13,314.74 503.22,314.67 503.47,314.49 503.72,314.32 503.97,314.15 504.21,313.99 504.46,313.85 504.71,313.72 504.96,313.61 505.21,313.53 505.46,313.46 505.70,313.43 505.86,313.42 505.95,313.42 506.20,313.44 506.45,313.47 506.70,313.51 506.95,313.57 507.19,313.64 507.44,313.71 507.69,313.80 507.94,313.89 508.19,313.99 508.44,314.09 508.68,314.19 508.93,314.29 509.18,314.39 509.43,314.49 509.63,314.57 509.68,314.58 509.93,314.68 510.17,314.78 510.42,314.88 510.67,314.99 510.92,315.10 511.17,315.21 511.42,315.33 511.66,315.46 511.91,315.58 512.16,315.72 512.41,315.85 512.66,315.99 512.89,316.13 512.91,316.14 513.15,316.30 513.40,316.48 513.65,316.66 513.90,316.86 514.15,317.04 514.32,317.17 514.40,317.22 514.64,317.40 514.89,317.58 515.14,317.76 515.39,317.94 515.64,318.12 515.89,318.30 516.13,318.47 516.38,318.65 516.63,318.83 516.88,319.00 517.13,319.17 517.38,319.33 517.62,319.49 517.87,319.65 518.12,319.80 518.35,319.94 518.37,319.95 518.62,320.10 518.87,320.24 519.11,320.38 519.36,320.52 519.61,320.66 519.86,320.80 520.11,320.93 520.36,321.07 520.60,321.19 520.85,321.32 521.10,321.45 521.35,321.57 521.60,321.68 521.85,321.80 522.09,321.91 522.34,322.02 522.59,322.12 522.77,322.19 522.84,322.22 523.09,322.32 523.34,322.41 523.58,322.50 523.83,322.58 524.08,322.67 524.33,322.75 524.58,322.83 524.83,322.90 525.07,322.98 525.32,323.06 525.57,323.13 525.82,323.21 526.02,323.27 526.07,323.28 526.32,323.36 526.56,323.43 526.81,323.51 527.06,323.59 527.31,323.67 527.56,323.75 527.81,323.83 528.05,323.90 528.30,323.98 528.55,324.06 528.80,324.14 529.05,324.22 529.30,324.29 529.54,324.37 529.79,324.44 530.04,324.52 530.29,324.59 530.54,324.66 530.79,324.73 531.03,324.80 531.28,324.87 531.53,324.94 531.78,325.00 532.03,325.06 532.28,325.12 532.52,325.18 532.77,325.24 533.02,325.29 533.27,325.34 533.52,325.39 533.77,325.43 534.01,325.48 534.09,325.49 534.26,325.51 534.51,325.55 534.76,325.59 535.01,325.63 535.26,325.67 535.50,325.71 535.75,325.75 536.00,325.79 536.25,325.82 536.50,325.86 536.75,325.90 536.99,325.93 537.24,325.97 537.49,326.00 537.74,326.04 537.99,326.07 538.24,326.10 538.48,326.13 538.73,326.16 538.98,326.19 539.23,326.22 539.48,326.25 539.73,326.28 539.97,326.30 540.22,326.33 540.47,326.35 540.72,326.37 540.97,326.39 541.22,326.41 541.46,326.43 541.71,326.45 541.96,326.46 542.21,326.48 542.46,326.49 542.71,326.50 542.95,326.51 543.20,326.52 543.45,326.53 544.10,326.53 544.10,317.17" fill="#ff0000"/>
<polyline clip-path="url(#c7)" points="439.40,234.31 439.65,234.31 439.90,234.31 440.14,234.31 440.39,234.31 440.64,234.31 440.89,234.31 441.14,234.31 441.39,234.31 441.63,234.31 441.88,234.31 442.13,234.31 442.38,234.31 442.63,234.31 442.88,234.31 443.12,234.31 443.37,234.31 443.62,234.31 443.87,234.31 444.12,234.31 444.37,234.31 444.61,234.31 444.86,234.31 445.11,234.31 445.36,234.31 445.61,234.31 445.86,234.31 446.10,234.31 446.35,234.31 446.60,234.31 446.85,234.31 447.10,234.31 447.35,234.31 447.59,234.31 447.84,234.31 448.09,234.31 448.34,234.31 448.59,234.31 448.84,234.31 449.08,234.31 449.33,234.31 449.58,234.31 449.83,234.31 450.08,234.31 450.33,234.31 450.57,234.31 450.82,234.31 451.07,234.31 451.32,234.31 451.57,234.31 451.82,234.31 452.06,234.31 452.31,234.31 452.56,234.31 452.81,234.31 453.06,234.31 453.31,234.31 453.55,234.31 453.80,234.31 454.05,234.31 454.30,234.31 454.55,234.31 454.80,234.31 455.04,234.31 455.29,234.31 455.54,234.31 455.79,234.31 456.04,234.31 456.29,234.31 456.53,234.31 456.78,234.31 457.03,234.31 457.28,234.31 457.53,234.31 457.78,234.31 458.02,234.31 458.27,234.31 458.52,234.31 458.77,234.31 459.02,234.31 459.27,234.31 459.51,234.31 459.76,234.31 460.01,234.31 460.26,234.31 460.51,234.31 460.76,234.31 461.00,234.31 461.25,234.31 461.50,234.31 461.75,234.31 462.00,234.31 462.25,234.31 462.49,234.31 462.74,234.31 462.94,234.31 462.99,237.55 463.24,300.78 463.33,317.17 463.49,330.37 463.74,348.32 463.98,362.04 464.23,370.91 464.48,374.35 464.50,374.37 464.73,367.20 464.98,352.60 465.15,346.29 465.23,345.29 465.47,342.64 465.72,340.77 465.97,339.29 466.19,337.97 466.22,337.80 466.47,336.29 466.72,334.91 466.96,333.65 467.21,332.51 467.23,332.42 467.46,331.47 467.71,330.53 467.96,329.65 468.21,328.83 468.27,328.61 468.45,328.02 468.70,327.20 468.95,326.38 469.20,325.59 469.45,324.84 469.70,324.15 469.94,323.53 470.19,323.00 470.35,322.71 470.44,322.58 470.69,322.21 470.94,321.88 471.19,321.58 471.43,321.31 471.68,321.06 471.93,320.84 472.18,320.63 472.18,320.63 472.43,320.44 472.68,320.27 472.92,320.11 473.17,319.96 473.42,319.82 473.67,319.69 473.87,319.59 473.92,319.57 474.17,319.47 474.41,319.38 474.66,319.30 474.91,319.22 475.16,319.12 475.41,319.00 475.56,318.90 475.66,318.81 475.90,318.48 476.15,318.02 476.40,317.53 476.60,317.17 476.65,317.08 476.90,316.63 477.15,316.17 477.39,315.70 477.64,315.24 477.89,314.80 478.03,314.57 478.14,314.38 478.39,313.98 478.64,313.58 478.88,313.19 479.13,312.80 479.38,312.43 479.63,312.08 479.88,311.74 480.13,311.41 480.24,311.27 480.37,311.11 480.62,310.79 480.87,310.48 481.12,310.17 481.37,309.89 481.62,309.63 481.86,309.40 482.11,309.23 482.32,309.12 482.36,309.11 482.61,309.01 482.86,308.93 483.11,308.87 483.35,308.85 483.36,308.85 483.60,308.86 483.85,308.91 484.10,308.98 484.35,309.08 484.60,309.20 484.84,309.33 485.09,309.48 485.34,309.64 485.59,309.80 485.84,309.97 486.09,310.14 486.22,310.23 486.33,310.31 486.58,310.50 486.83,310.70 487.08,310.93 487.33,311.17 487.58,311.44 487.82,311.72 488.07,312.02 488.32,312.34 488.43,312.49 488.57,312.68 488.82,313.07 489.07,313.52 489.31,314.00 489.56,314.52 489.81,315.05 490.06,315.60 490.31,316.15 490.56,316.70 490.77,317.17 490.80,317.23 491.05,317.79 491.30,318.40 491.55,319.03 491.80,319.65 492.05,320.25 492.29,320.78 492.54,321.23 492.73,321.50 492.79,321.58 493.04,321.90 493.29,322.21 493.54,322.51 493.78,322.79 494.03,323.05 494.28,323.27 494.53,323.46 494.78,323.61 495.03,323.71 495.27,323.75 495.33,323.75 495.52,323.74 495.77,323.68 496.02,323.59 496.27,323.46 496.52,323.30 496.76,323.12 497.01,322.93 497.26,322.72 497.51,322.50 497.67,322.37 497.76,322.28 498.01,322.00 498.25,321.65 498.50,321.24 498.75,320.81 499.00,320.36 499.25,319.91 499.50,319.48 499.74,319.09 499.88,318.90 499.99,318.75 500.24,318.44 500.49,318.14 500.74,317.85 500.99,317.56 501.23,317.26 501.31,317.17 501.48,316.94 501.73,316.58 501.98,316.20 502.23,315.82 502.48,315.46 502.72,315.14 502.97,314.87 503.13,314.74 503.22,314.67 503.47,314.49 503.72,314.32 503.97,314.15 504.21,313.99 504.46,313.85 504.71,313.72 504.96,313.61 505.21,313.53 505.46,313.46 505.70,313.43 505.86,313.42 505.95,313.42 506.20,313.44 506.45,313.47 506.70,313.51 506.95,313.57 507.19,313.64 507.44,313.71 507.69,313.80 507.94,313.89 508.19,313.99 508.44,314.09 508.68,314.19 508.93,314.29 509.18,314.39 509.43,314.49 509.63,314.57 509.68,314.58 509.93,314.68 510.17,314.78 510.42,314.88 510.67,314.99 510.92,315.10 511.17,315.21 511.42,315.33 511.66,315.46 511.91,315.58 512.16,315.72 512.41,315.85 512.66,315.99 512.89,316.13 512.91,316.14 513.15,316.30 513.40,316.48 513.65,316.66 513.90,316.86 514.15,317.04 514.32,317.17 514.40,317.22 514.64,317.40 514.89,317.58 515.14,317.76 515.39,317.94 515.64,318.12 515.89,318.30 516.13,318.47 516.38,318.65 516.63,318.83 516.88,319.00 517.13,319.17 517.38,319.33 517.62,319.49 517.87,319.65 518.12,319.80 518.35,319.94 518.37,319.95 518.62,320.10 518.87,320.24 519.11,320.38 519.36,320.52 519.61,320.66 519.86,320.80 520.11,320.93 520.36,321.07 520.60,321.19 520.85,321.32 521.10,321.45 521.35,321.57 521.60,321.68 521.85,321.80 522.09,321.91 522.34,322.02 522.59,322.12 522.77,322.19 522.84,322.22 523.09,322.32 523.34,322.41 523.58,322.50 523.83,322.58 524.08,322.67 524.33,322.75 524.58,322.83 524.83,322.90 525.07,322.98 525.32,323.06 525.57,323.13 525.82,323.21 526.02,323.27 526.07,323.28 526.32,323.36 526.56,323.43 526.81,323.51 527.06,323.59 527.31,323.67 527.56,323.75 527.81,323.83 528.05,323.90 528.30,323.98 528.55,324.06 528.80,324.14 529.05,324.22 529.30,324.29 529.54,324.37 529.79,324.44 530.04,324.52 530.29,324.59 530.54,324.66 530.79,324.73 531.03,324.80 531.28,324.87 531.53,324.94 531.78,325.00 532.03,325.06 532.28,325.12 532.52,325.18 532.77,325.24 533.02,325.29 533.27,325.34 533.52,325.39 533.77,325.43 534.01,325.48 534.09,325.49 534.26,325.51 534.51,325.55 534.76,325.59 535.01,325.63 535.26,325.67 535.50,325.71 535.75,325.75 536.00,325.79 536.25,325.82 536.50,325.86 536.75,325.90 536.99,325.93 537.24,325.97 537.49,326.00 537.74,326.04 537.99,326.07 538.24,326.10 538.48,326.13 538.73,326.16 538.98,326.19 539.23,326.22 539.48,326.25 539.73,326.28 539.97,326.30 540.22,326.33 540.47,326.35 540.72,326.37 540.97,326.39 541.22,326.41 541.46,326.43 541.71,326.45 541.96,326.46 542.21,326.48 542.46,326.49 542.71,326.50 542.95,326.51 543.20,326.52 543.45,326.53" fill="none" stroke="#000" stroke-width="0.5" stroke-linejoin="round"/>
<text class="t" x="439.40" y="397.30" transform="rotate(.03 439.40 397.30)" text-anchor="middle">0</text>
<text class="t" x="465.41" y="397.30" transform="rotate(.03 465.41 397.30)" text-anchor="middle">2</text>
<text class="t" x="491.42" y="397.30" transform="rotate(.03 491.42 397.30)" text-anchor="middle">4</text>
<text class="t" x="517.44" y="397.30" transform="rotate(.03 517.44 397.30)" text-anchor="middle">6</text>
<text class="t" x="543.45" y="397.30" transform="rotate(.03 543.45 397.30)" text-anchor="middle">8</text>
<text class="t" x="436.10" y="390.48" transform="rotate(.03 436.10 390.48)" text-anchor="end">-2</text>
<text class="t" x="436.10" y="373.04" transform="rotate(.03 436.10 373.04)" text-anchor="end">-1.5</text>
<text class="t" x="436.10" y="355.60" transform="rotate(.03 436.10 355.60)" text-anchor="end">-1</text>
<text class="t" x="436.10" y="338.16" transform="rotate(.03 436.10 338.16)" text-anchor="end">-0.5</text>
<text class="t" x="436.10" y="320.72" transform="rotate(.03 436.10 320.72)" text-anchor="end">0</text>
<text class="t" x="436.10" y="303.28" transform="rotate(.03 436.10 303.28)" text-anchor="end">0.5</text>
<text class="t" x="436.10" y="285.84" transform="rotate(.03 436.10 285.84)" text-anchor="end">1</text>
<text class="t" x="436.10" y="268.40" transform="rotate(.03 436.10 268.40)" text-anchor="end">1.5</text>
<text class="t" x="436.10" y="250.96" transform="rotate(.03 436.10 250.96)" text-anchor="end">2</text>
<text class="t" x="436.10" y="233.52" transform="rotate(.03 436.10 233.52)" text-anchor="end">2.5</text>
<text class="l" x="491.42" y="407.40" transform="rotate(.03 491.42 407.40)" text-anchor="middle">Time (s)</text>
<text class="l" transform="translate(420.10 308.50) rotate(-89.97)" text-anchor="middle">Turbine Efficiency % Difference</text>
<text class="h" x="491.42" y="227.40" transform="rotate(.03 491.42 227.40)" text-anchor="middle">(H)</text>
</g>
</svg></body></html>
